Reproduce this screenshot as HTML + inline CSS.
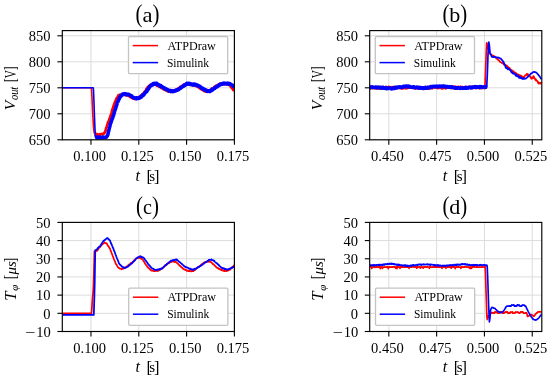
<!DOCTYPE html>
<html><head><meta charset="utf-8"><style>
html,body{margin:0;padding:0;background:#fff;}
body{width:550px;height:382px;overflow:hidden;}
svg{display:block;font-family:"Liberation Serif","DejaVu Serif",serif;fill:#000;}
svg text{fill:#000;}
</style></head><body>
<svg width="550" height="382" viewBox="0 0 550 382">
<defs>
<clipPath id="clipa"><rect x="62.3" y="30.6" width="172.10" height="109.20"/></clipPath>
<clipPath id="clipb"><rect x="369.7" y="30.6" width="172.10" height="109.20"/></clipPath>
<clipPath id="clipc"><rect x="62.3" y="222.4" width="172.10" height="109.10"/></clipPath>
<clipPath id="clipd"><rect x="369.7" y="222.4" width="172.10" height="109.10"/></clipPath>
</defs>
<rect width="550" height="382" fill="#fff"/>
<line x1="90.98" y1="30.6" x2="90.98" y2="139.8" stroke="#dcdcdc" stroke-width="1"/>
<line x1="138.79" y1="30.6" x2="138.79" y2="139.8" stroke="#dcdcdc" stroke-width="1"/>
<line x1="186.59" y1="30.6" x2="186.59" y2="139.8" stroke="#dcdcdc" stroke-width="1"/>
<line x1="234.40" y1="30.6" x2="234.40" y2="139.8" stroke="#dcdcdc" stroke-width="1"/>
<line x1="62.3" y1="139.80" x2="234.4" y2="139.80" stroke="#dcdcdc" stroke-width="1"/>
<line x1="62.3" y1="113.80" x2="234.4" y2="113.80" stroke="#dcdcdc" stroke-width="1"/>
<line x1="62.3" y1="87.80" x2="234.4" y2="87.80" stroke="#dcdcdc" stroke-width="1"/>
<line x1="62.3" y1="61.80" x2="234.4" y2="61.80" stroke="#dcdcdc" stroke-width="1"/>
<line x1="62.3" y1="35.80" x2="234.4" y2="35.80" stroke="#dcdcdc" stroke-width="1"/>
<line x1="388.82" y1="30.6" x2="388.82" y2="139.8" stroke="#dcdcdc" stroke-width="1"/>
<line x1="436.63" y1="30.6" x2="436.63" y2="139.8" stroke="#dcdcdc" stroke-width="1"/>
<line x1="484.43" y1="30.6" x2="484.43" y2="139.8" stroke="#dcdcdc" stroke-width="1"/>
<line x1="532.24" y1="30.6" x2="532.24" y2="139.8" stroke="#dcdcdc" stroke-width="1"/>
<line x1="369.7" y1="139.80" x2="541.8" y2="139.80" stroke="#dcdcdc" stroke-width="1"/>
<line x1="369.7" y1="113.80" x2="541.8" y2="113.80" stroke="#dcdcdc" stroke-width="1"/>
<line x1="369.7" y1="87.80" x2="541.8" y2="87.80" stroke="#dcdcdc" stroke-width="1"/>
<line x1="369.7" y1="61.80" x2="541.8" y2="61.80" stroke="#dcdcdc" stroke-width="1"/>
<line x1="369.7" y1="35.80" x2="541.8" y2="35.80" stroke="#dcdcdc" stroke-width="1"/>
<line x1="90.98" y1="222.4" x2="90.98" y2="331.5" stroke="#dcdcdc" stroke-width="1"/>
<line x1="138.79" y1="222.4" x2="138.79" y2="331.5" stroke="#dcdcdc" stroke-width="1"/>
<line x1="186.59" y1="222.4" x2="186.59" y2="331.5" stroke="#dcdcdc" stroke-width="1"/>
<line x1="234.40" y1="222.4" x2="234.40" y2="331.5" stroke="#dcdcdc" stroke-width="1"/>
<line x1="62.3" y1="331.50" x2="234.4" y2="331.50" stroke="#dcdcdc" stroke-width="1"/>
<line x1="62.3" y1="313.32" x2="234.4" y2="313.32" stroke="#dcdcdc" stroke-width="1"/>
<line x1="62.3" y1="295.13" x2="234.4" y2="295.13" stroke="#dcdcdc" stroke-width="1"/>
<line x1="62.3" y1="276.95" x2="234.4" y2="276.95" stroke="#dcdcdc" stroke-width="1"/>
<line x1="62.3" y1="258.77" x2="234.4" y2="258.77" stroke="#dcdcdc" stroke-width="1"/>
<line x1="62.3" y1="240.58" x2="234.4" y2="240.58" stroke="#dcdcdc" stroke-width="1"/>
<line x1="62.3" y1="222.40" x2="234.4" y2="222.40" stroke="#dcdcdc" stroke-width="1"/>
<line x1="388.82" y1="222.4" x2="388.82" y2="331.5" stroke="#dcdcdc" stroke-width="1"/>
<line x1="436.63" y1="222.4" x2="436.63" y2="331.5" stroke="#dcdcdc" stroke-width="1"/>
<line x1="484.43" y1="222.4" x2="484.43" y2="331.5" stroke="#dcdcdc" stroke-width="1"/>
<line x1="532.24" y1="222.4" x2="532.24" y2="331.5" stroke="#dcdcdc" stroke-width="1"/>
<line x1="369.7" y1="331.50" x2="541.8" y2="331.50" stroke="#dcdcdc" stroke-width="1"/>
<line x1="369.7" y1="313.32" x2="541.8" y2="313.32" stroke="#dcdcdc" stroke-width="1"/>
<line x1="369.7" y1="295.13" x2="541.8" y2="295.13" stroke="#dcdcdc" stroke-width="1"/>
<line x1="369.7" y1="276.95" x2="541.8" y2="276.95" stroke="#dcdcdc" stroke-width="1"/>
<line x1="369.7" y1="258.77" x2="541.8" y2="258.77" stroke="#dcdcdc" stroke-width="1"/>
<line x1="369.7" y1="240.58" x2="541.8" y2="240.58" stroke="#dcdcdc" stroke-width="1"/>
<line x1="369.7" y1="222.40" x2="541.8" y2="222.40" stroke="#dcdcdc" stroke-width="1"/>
<polyline points="62.3,87.8 62.6,87.8 62.9,87.8 63.2,87.8 63.5,87.8 63.8,87.8 64.1,87.8 64.4,87.8 64.7,87.8 65,87.8 65.3,87.8 65.6,87.8 65.9,87.8 66.2,87.8 66.5,87.8 66.8,87.8 67.1,87.8 67.4,87.8 67.7,87.8 68,87.8 68.3,87.8 68.6,87.8 68.9,87.8 69.2,87.8 69.5,87.8 69.8,87.8 70.1,87.8 70.4,87.8 70.7,87.8 71,87.8 71.3,87.8 71.6,87.8 71.9,87.8 72.2,87.8 72.5,87.8 72.8,87.8 73.1,87.8 73.4,87.8 73.7,87.8 74,87.8 74.3,87.8 74.6,87.8 74.9,87.8 75.2,87.8 75.5,87.8 75.8,87.8 76.1,87.8 76.4,87.8 76.7,87.8 77,87.8 77.3,87.8 77.6,87.8 77.9,87.8 78.2,87.8 78.5,87.8 78.8,87.8 79.1,87.8 79.4,87.8 79.7,87.8 80,87.8 80.3,87.8 80.6,87.8 80.9,87.8 81.2,87.8 81.5,87.8 81.8,87.8 82.1,87.8 82.4,87.8 82.7,87.8 83,87.8 83.3,87.8 83.6,87.8 83.9,87.8 84.2,87.8 84.5,87.8 84.8,87.8 85.1,87.8 85.4,87.8 85.7,87.8 86,87.8 86.3,87.8 86.6,87.8 86.9,87.8 87.2,87.8 87.5,87.8 87.8,87.8 88.1,87.8 88.4,87.8 88.7,87.8 89,87.8 89.3,87.8 89.6,87.8 89.9,87.8 90.2,87.8 90.5,87.8 90.8,87.8 91.1,87.8 91.4,88.15 91.7,92.3 92,98 92.3,104.1 92.6,110.92 92.9,116.86 93.2,122.36 93.5,126.89 93.8,129.87 94.1,132.11 94.4,133.29 94.7,133.92" fill="none" stroke="#ff0000" stroke-width="1.6" stroke-linejoin="round" stroke-linecap="butt" clip-path="url(#clipa)"/>
<polyline points="94.7,133.92 95,134.2 95.3,134.63 95.6,134.21 95.9,134.18 96.2,134.18 96.5,134.29 96.8,133.98 97.1,134.35 97.4,134.66 97.7,134.38 98,134.54 98.3,134.72 98.6,134.64 98.9,134.57 99.2,134.64 99.5,134.65 99.8,134.2 100.1,134.39 100.4,134.27 100.7,134.19 101,134.43 101.3,134.2 101.6,134.41 101.9,134.35 102.2,133.93 102.5,134.15 102.8,134.06 103.1,134.25 103.4,133.69 103.7,133.65 104,133.64 104.3,133.14 104.6,132.83 104.9,131.98 105.2,131.26 105.5,131.1 105.8,129.59 106.1,128.45 106.4,127.49 106.7,126.55 107,125.5 107.3,124.78 107.6,124.14 107.9,122.57 108.2,121.93 108.5,121.33 108.8,120.75 109.1,120.12 109.4,118.72 109.7,118.31 110,117.82 110.3,116.34 110.6,115.87 110.9,114.58 111.2,114.05 111.5,113.15 111.8,111.79 112.1,110.34 112.4,109.39 112.7,108.72 113,108.12 113.3,106.69 113.6,106.1 113.9,104.98 114.2,103.98 114.5,103.5 114.8,102.39 115.1,101.71 115.4,101.31 115.7,100.4 116,99.98 116.3,99.14 116.6,98.27 116.9,97.97 117.2,97.84 117.5,97.12 117.8,96.95 118.1,95.7 118.4,95.52 118.7,95.48 119,95.09 119.3,94.77 119.6,94.74 119.9,94.91 120.2,94.81 120.5,94.76 120.8,94.83 121.1,94.93 121.4,94.63 121.7,94.84 122,94.71 122.3,94.74 122.6,94.4 122.9,93.97 123.2,94.33 123.5,94.59 123.8,94.43 124.1,94.47 124.4,94.31 124.7,94.34 125,94.69 125.3,94.25 125.6,94.96 125.9,95.06 126.2,95.22 126.5,94.66 126.8,94.75 127.1,95.47 127.4,95.18 127.7,95.18 128,95.38 128.3,95.73 128.6,95.49 128.9,95.92 129.2,96.24 129.5,96.48 129.8,96.1 130.1,96.94 130.4,96.84 130.7,97.03 131,97.31 131.3,97.25 131.6,97.88 131.9,97.47 132.2,97.85 132.5,97.67 132.8,98.16 133.1,98.51 133.4,98.61 133.7,98.12 134,98.61 134.3,98.92 134.6,98.44 134.9,98.67 135.2,98.95 135.5,98.99 135.8,98.75 136.1,98.86 136.4,98.82 136.7,98.47 137,98.59 137.3,98.38 137.6,98.32 137.9,97.99 138.2,97.67 138.5,97.55 138.8,97.74 139.1,96.95 139.4,96.72 139.7,96.41 140,96.88 140.3,96.76 140.6,95.92 140.9,95.69 141.2,95.36 141.5,95.4 141.8,95.01 142.1,94.97 142.4,94.17 142.7,94.38 143,93.71 143.3,93.65 143.6,93.31 143.9,93.05 144.2,92.37 144.5,92.12 144.8,91.73 145.1,91.06 145.4,90.89 145.7,90.8 146,90.32 146.3,89.14 146.6,89.18 146.9,88.44 147.2,87.82 147.5,87.37 147.8,87.48 148.1,87.22 148.4,86.51 148.7,86.1 149,85.94 149.3,86 149.6,85.76 149.9,85.03 150.2,84.98 150.5,85.34 150.8,84.88 151.1,84.86 151.4,84.82 151.7,84.58 152,84.54 152.3,84.29 152.6,83.95 152.9,83.84 153.2,84.44 153.5,83.62 153.8,84.15 154.1,84.32 154.4,83.85 154.7,83.78 155,84.16 155.3,84.22 155.6,84.46 155.9,84.58 156.2,85.14 156.5,84.64 156.8,85.46 157.1,84.89 157.4,85.75 157.7,85.41 158,85.88 158.3,85.47 158.6,85.99 158.9,86.35 159.2,86.5 159.5,86.83 159.8,86.49 160.1,86.88 160.4,87.24 160.7,86.97 161,87.8 161.3,87.65 161.6,87.7 161.9,87.85 162.2,88.37 162.5,88.05 162.8,88.37 163.1,88.59 163.4,88.73 163.7,89.28 164,89.35 164.3,89.77 164.6,89.78 164.9,89.62 165.2,89.8 165.5,89.8 165.8,90.04 166.1,90.46 166.4,90.69 166.7,90.45 167,90.59 167.3,91.04 167.6,91.24 167.9,90.62 168.2,90.69 168.5,91.31 168.8,91.17 169.1,91.18 169.4,91.41 169.7,91.58 170,91.08 170.3,91.84 170.6,91.88 170.9,91.48 171.2,91.55 171.5,91.41 171.8,91.67 172.1,91.36 172.4,91.59 172.7,91.83 173,91.43 173.3,91.58 173.6,90.95 173.9,91.38 174.2,90.63 174.5,90.55 174.8,90.79 175.1,90.29 175.4,89.98 175.7,89.79 176,90.19 176.3,89.42 176.6,89.29 176.9,89.82 177.2,89.5 177.5,88.98 177.8,88.63 178.1,88.96 178.4,88.68 178.7,88.36 179,88.03 179.3,87.81 179.6,87.96 179.9,87.39 180.2,86.84 180.5,86.64 180.8,86.88 181.1,86.81 181.4,86.54 181.7,86.44 182,85.88 182.3,85.74 182.6,85.46 182.9,85.34 183.2,85.06 183.5,85.32 183.8,84.59 184.1,84.47 184.4,84.71 184.7,84.31 185,84.13 185.3,84.52 185.6,84.36 185.9,83.75 186.2,83.65 186.5,83.9 186.8,83.96 187.1,83.8 187.4,84.03 187.7,84.15 188,84.32 188.3,83.93 188.6,84.33 188.9,83.94 189.2,84.03 189.5,84.1 189.8,84.23 190.1,84.83 190.4,84.57 190.7,84.72 191,84.73 191.3,84.57 191.6,84.46 191.9,84.58 192.2,85.13 192.5,84.73 192.8,84.8 193.1,84.7 193.4,85.1 193.7,85.11 194,84.92 194.3,85.09 194.6,85.1 194.9,85.35 195.2,85.48 195.5,85.6 195.8,86 196.1,86.18 196.4,85.62 196.7,86.03 197,85.92 197.3,86.34 197.6,86.84 197.9,86.9 198.2,86.97 198.5,86.78 198.8,87.56 199.1,87.62 199.4,87.6 199.7,88.21 200,87.85 200.3,88.2 200.6,88.91 200.9,88.54 201.2,88.82 201.5,89.31 201.8,89.66 202.1,89.72 202.4,89.43 202.7,89.76 203,90.26 203.3,90.12 203.6,90.14 203.9,90.13 204.2,90.49 204.5,91.16 204.8,90.58 205.1,91.11 205.4,91.51 205.7,91.44 206,91.2 206.3,91.57 206.6,91.21 206.9,91.56 207.2,91.4 207.5,91.9 207.8,91.87 208.1,91.72 208.4,91.31 208.7,91.51 209,91.49 209.3,90.82 209.6,90.74 209.9,90.23 210.2,89.95 210.5,90.21 210.8,89.44 211.1,89.64 211.4,89.03 211.7,89.26 212,89.14 212.3,89.09 212.6,88.45 212.9,88.24 213.2,88.04 213.5,88.07 213.8,87.92 214.1,87.17 214.4,87.12 214.7,86.7 215,86.64 215.3,86.84 215.6,86.81 215.9,86.66 216.2,85.76 216.5,85.87 216.8,86.08 217.1,85.62 217.4,85.33 217.7,85.5 218,85.4 218.3,84.65 218.6,84.78 218.9,84.33 219.2,84.21 219.5,84.35 219.8,84 220.1,84.33 220.4,83.88 220.7,83.65 221,83.95 221.3,83.62 221.6,83.45 221.9,84.2 222.2,83.55 222.5,83.51 222.8,83.78 223.1,83.4 223.4,84.03 223.7,83.46 224,83.43 224.3,84.17 224.6,83.81 224.9,84.14 225.2,84.12 225.5,83.99 225.8,83.43 226.1,83.94 226.4,83.51 226.7,83.5 227,84.22 227.3,83.85 227.6,84.26 227.9,84.16 228.2,84.45 228.5,84.42 228.8,84.78 229.1,84.48 229.4,84.95 229.7,85.21 230,85.39 230.3,85.76 230.6,86.18 230.9,86.84 231.2,86.96 231.5,87.59 231.8,88.14 232.1,88.23 232.4,88.5 232.7,88.76 233,89.66 233.3,90.05 233.6,90.34 233.9,90.57 234.2,90.82" fill="none" stroke="#ff0000" stroke-width="2.7" stroke-linejoin="round" stroke-linecap="butt" clip-path="url(#clipa)"/>
<polyline points="62.3,87.8 62.6,87.8 62.9,87.8 63.2,87.8 63.5,87.8 63.8,87.8 64.1,87.8 64.4,87.8 64.7,87.8 65,87.8 65.3,87.8 65.6,87.8 65.9,87.8 66.2,87.8 66.5,87.8 66.8,87.8 67.1,87.8 67.4,87.8 67.7,87.8 68,87.8 68.3,87.8 68.6,87.8 68.9,87.8 69.2,87.8 69.5,87.8 69.8,87.8 70.1,87.8 70.4,87.8 70.7,87.8 71,87.8 71.3,87.8 71.6,87.8 71.9,87.8 72.2,87.8 72.5,87.8 72.8,87.8 73.1,87.8 73.4,87.8 73.7,87.8 74,87.8 74.3,87.8 74.6,87.8 74.9,87.8 75.2,87.8 75.5,87.8 75.8,87.8 76.1,87.8 76.4,87.8 76.7,87.8 77,87.8 77.3,87.8 77.6,87.8 77.9,87.8 78.2,87.8 78.5,87.8 78.8,87.8 79.1,87.8 79.4,87.8 79.7,87.8 80,87.8 80.3,87.8 80.6,87.8 80.9,87.8 81.2,87.8 81.5,87.8 81.8,87.8 82.1,87.8 82.4,87.8 82.7,87.8 83,87.8 83.3,87.8 83.6,87.8 83.9,87.8 84.2,87.8 84.5,87.8 84.8,87.8 85.1,87.8 85.4,87.8 85.7,87.8 86,87.8 86.3,87.8 86.6,87.8 86.9,87.8 87.2,87.8 87.5,87.8 87.8,87.8 88.1,87.8 88.4,87.8 88.7,87.8 89,87.8 89.3,87.8 89.6,87.8 89.9,87.8 90.2,87.8 90.5,87.8 90.8,87.8 91.1,87.8 91.4,87.8 91.7,87.8 92,87.8 92.3,87.8 92.6,87.8 92.9,87.8 93.2,87.8 93.5,89.91 93.8,97.45 94.1,105.42 94.4,114.6 94.7,122.38 95,129.25 95.3,134 95.6,136.66 95.9,137.88" fill="none" stroke="#0000ff" stroke-width="1.6" stroke-linejoin="round" stroke-linecap="butt" clip-path="url(#clipa)"/>
<polyline points="95.9,137.88 96.2,137.28 96.5,137.1 96.8,137.83 97.1,137.94 97.4,137.66 97.7,137.99 98,137.51 98.3,137.57 98.6,137.13 98.9,137.43 99.2,137.99 99.5,137.18 99.8,137.22 100.1,137.12 100.4,137.58 100.7,137.7 101,137.63 101.3,137.98 101.6,137.78 101.9,137.74 102.2,137.7 102.5,137.6 102.8,137.17 103.1,137.18 103.4,137.72 103.7,137.27 104,137.46 104.3,137.67 104.6,137.6 104.9,137.22 105.2,137.21 105.5,137.05 105.8,137.54 106.1,137.55 106.4,136.9 106.7,136.77 107,136.17 107.3,136.04 107.6,135.06 107.9,134.66 108.2,132.8 108.5,131.76 108.8,130.3 109.1,129.24 109.4,127.85 109.7,126.99 110,125.6 110.3,124.02 110.6,123.38 110.9,122.85 111.2,121.54 111.5,120.99 111.8,119.63 112.1,119.36 112.4,118.3 112.7,118.05 113,116.35 113.3,115.76 113.6,115.24 113.9,113.88 114.2,112.95 114.5,111.79 114.8,110.53 115.1,109.74 115.4,109.31 115.7,108.25 116,106.85 116.3,106.25 116.6,105.43 116.9,104.52 117.2,102.89 117.5,102.17 117.8,102.19 118.1,100.81 118.4,100.62 118.7,99.81 119,99.41 119.3,98.01 119.6,98.3 119.9,97.72 120.2,96.63 120.5,96.71 120.8,95.66 121.1,96.18 121.4,95.42 121.7,95.46 122,95.26 122.3,94.28 122.6,94.97 122.9,94.07 123.2,94.02 123.5,94.22 123.8,93.93 124.1,94.25 124.4,93.74 124.7,94.14 125,94.26 125.3,94.47 125.6,93.93 125.9,93.85 126.2,94.19 126.5,94.32 126.8,94.66 127.1,94.4 127.4,94.34 127.7,94.29 128,94.81 128.3,94.82 128.6,94.36 128.9,94.69 129.2,94.66 129.5,95.1 129.8,95.1 130.1,95.01 130.4,95.54 130.7,95.84 131,95.71 131.3,96.4 131.6,95.86 131.9,96.02 132.2,96.86 132.5,96.9 132.8,97.27 133.1,97.61 133.4,97.33 133.7,97.76 134,97.71 134.3,97.7 134.6,97.81 134.9,98.42 135.2,97.88 135.5,98.07 135.8,98.22 136.1,98.47 136.4,97.96 136.7,98.61 137,98.03 137.3,98.38 137.6,98.42 137.9,98.5 138.2,98.42 138.5,98.35 138.8,97.64 139.1,97.8 139.4,98.04 139.7,97.54 140,97.76 140.3,97.28 140.6,97.1 140.9,97.01 141.2,97.11 141.5,95.94 141.8,95.84 142.1,95.58 142.4,95.45 142.7,95.01 143,95.7 143.3,94.57 143.6,94.6 143.9,94.69 144.2,93.97 144.5,93.41 144.8,93.12 145.1,92.91 145.4,92.46 145.7,92.28 146,91.87 146.3,91.2 146.6,91.64 146.9,91.34 147.2,90.51 147.5,89.6 147.8,89.95 148.1,88.93 148.4,88.47 148.7,87.87 149,88.09 149.3,87.41 149.6,86.61 149.9,86.3 150.2,86.01 150.5,85.68 150.8,85.74 151.1,85.83 151.4,84.74 151.7,85.37 152,85.2 152.3,84.41 152.6,85.01 152.9,84.76 153.2,84.47 153.5,83.73 153.8,83.96 154.1,84.18 154.4,83.89 154.7,83.33 155,83.99 155.3,83.62 155.6,83.42 155.9,83.58 156.2,83.39 156.5,83.73 156.8,83.49 157.1,84.6 157.4,83.88 157.7,84.23 158,84.34 158.3,84.66 158.6,84.69 158.9,85.39 159.2,84.83 159.5,85.79 159.8,85.35 160.1,86.1 160.4,85.63 160.7,85.55 161,86.49 161.3,86 161.6,86.78 161.9,87.11 162.2,86.63 162.5,86.92 162.8,87.36 163.1,87.85 163.4,88.01 163.7,87.82 164,88.07 164.3,88.47 164.6,87.99 164.9,88.94 165.2,89.05 165.5,88.59 165.8,89.16 166.1,89.44 166.4,89.52 166.7,89.11 167,89.26 167.3,89.57 167.6,89.59 167.9,90.11 168.2,90.48 168.5,90.43 168.8,90.85 169.1,90.52 169.4,90.55 169.7,90.31 170,91.21 170.3,91 170.6,91.38 170.9,91.4 171.2,90.61 171.5,91.19 171.8,91.13 172.1,91.44 172.4,90.77 172.7,91.42 173,91.39 173.3,91.17 173.6,90.93 173.9,91.47 174.2,90.79 174.5,91.02 174.8,90.62 175.1,90.79 175.4,90.61 175.7,90.85 176,90.76 176.3,90.63 176.6,90.17 176.9,90.35 177.2,90.09 177.5,89.8 177.8,89.88 178.1,89.92 178.4,89.26 178.7,89.57 179,89.04 179.3,88.6 179.6,88.48 179.9,88.45 180.2,87.89 180.5,88.28 180.8,87.52 181.1,87.55 181.4,87.57 181.7,87.33 182,86.98 182.3,86.83 182.6,86.7 182.9,86.35 183.2,86 183.5,86.28 183.8,85.34 184.1,85.11 184.4,85.09 184.7,84.81 185,85.36 185.3,84.72 185.6,84.9 185.9,84.4 186.2,83.9 186.5,84.42 186.8,84.3 187.1,83.43 187.4,83.99 187.7,83.72 188,83.29 188.3,83.44 188.6,83.84 188.9,83.32 189.2,83.78 189.5,83.76 189.8,83.82 190.1,83.55 190.4,84.27 190.7,84.06 191,84.29 191.3,84.31 191.6,84.08 191.9,84.56 192.2,84.29 192.5,84.86 192.8,84.44 193.1,84.2 193.4,84.49 193.7,84.43 194,85 194.3,84.37 194.6,84.96 194.9,84.12 195.2,84.26 195.5,84.46 195.8,84.98 196.1,84.92 196.4,84.83 196.7,84.94 197,85.49 197.3,85 197.6,85.71 197.9,85.45 198.2,85.92 198.5,86.2 198.8,85.97 199.1,85.89 199.4,86.09 199.7,86.25 200,86.28 200.3,86.8 200.6,87.23 200.9,87.19 201.2,87.99 201.5,88.2 201.8,88.27 202.1,88.52 202.4,88.27 202.7,88.93 203,88.43 203.3,88.59 203.6,88.81 203.9,89.22 204.2,89.77 204.5,89.22 204.8,89.72 205.1,90.08 205.4,90.48 205.7,90.34 206,90.17 206.3,90.14 206.6,90.69 206.9,91.11 207.2,91.25 207.5,91.13 207.8,90.78 208.1,90.75 208.4,90.78 208.7,91.04 209,91.33 209.3,90.95 209.6,91.38 209.9,91 210.2,91.36 210.5,90.95 210.8,91.02 211.1,90.31 211.4,90.41 211.7,90.51 212,89.4 212.3,90.08 212.6,89.51 212.9,89.68 213.2,88.75 213.5,88.75 213.8,88.76 214.1,88.47 214.4,88.29 214.7,88.33 215,87.41 215.3,87.75 215.6,87.26 215.9,87.52 216.2,87.34 216.5,86.63 216.8,86.34 217.1,86.69 217.4,86.54 217.7,86.19 218,86.16 218.3,86.04 218.6,85.42 218.9,85.12 219.2,84.65 219.5,84.86 219.8,84.46 220.1,84.81 220.4,84.53 220.7,84.7 221,84.3 221.3,83.73 221.6,83.73 221.9,83.75 222.2,83.69 222.5,84.03 222.8,83.67 223.1,83.33 223.4,83.28 223.7,83.58 224,83.09 224.3,83.46 224.6,83.9 224.9,83.92 225.2,83.56 225.5,83.54 225.8,83.33 226.1,83.59 226.4,83.46 226.7,83.65 227,83.95 227.3,83.76 227.6,83.15 227.9,83.21 228.2,83.77 228.5,84.1 228.8,83.77 229.1,84.08 229.4,83.59 229.7,83.63 230,84.45 230.3,84.43 230.6,84.09 230.9,84.55 231.2,84.5 231.5,84.81 231.8,84.81 232.1,85.13 232.4,85.64 232.7,85.39 233,85.97 233.3,86.47 233.6,85.84 233.9,86.38 234.2,86.85" fill="none" stroke="#0000ff" stroke-width="3.6" stroke-linejoin="round" stroke-linecap="butt" clip-path="url(#clipa)"/>
<polyline points="369.7,87.91 370,87.57 370.3,88.94 370.6,86.83 370.9,87.15 371.2,86.51 371.5,86.79 371.8,87.96 372.1,86.44 372.4,88.93 372.7,88.42 373,86.53 373.3,88.5 373.6,86.64 373.9,87.74 374.2,86.89 374.5,86.77 374.8,87.78 375.1,88.77 375.4,86.53 375.7,86.87 376,87.65 376.3,88.96 376.6,87.3 376.9,88.72 377.2,87.8 377.5,87.55 377.8,88.42 378.1,86.83 378.4,87.76 378.7,86.38 379,87.75 379.3,89.07 379.6,86.48 379.9,86.56 380.2,87.89 380.5,88.89 380.8,87.84 381.1,88.97 381.4,87.17 381.7,89.06 382,86.87 382.3,88.44 382.6,87.22 382.9,88.62 383.2,86.38 383.5,87.15 383.8,88.86 384.1,88.44 384.4,87.63 384.7,87.33 385,88.92 385.3,86.82 385.6,86.81 385.9,86.44 386.2,88.15 386.5,88.83 386.8,86.63 387.1,88.41 387.4,88.42 387.7,86.84 388,87.73 388.3,87.87 388.6,86.42 388.9,88.91 389.2,86.64 389.5,86.68 389.8,88.23 390.1,87.67 390.4,88.46 390.7,88.07 391,86.53 391.3,87.53 391.6,89 391.9,87.12 392.2,86.77 392.5,88.74 392.8,86.5 393.1,87.4 393.4,89.05 393.7,88.67 394,86.63 394.3,86.5 394.6,87.61 394.9,88.17 395.2,88.53 395.5,86.81 395.8,87.45 396.1,87.52 396.4,87.11 396.7,88.16 397,87.76 397.3,87.42 397.6,88.41 397.9,87.09 398.2,87.94 398.5,88.44 398.8,87.2 399.1,86.34 399.4,86.25 399.7,88.46 400,88.53 400.3,88.24 400.6,86.31 400.9,86.96 401.2,88.9 401.5,87.81 401.8,87.45 402.1,88.96 402.4,88.96 402.7,86.94 403,88.26 403.3,88.53 403.6,88.63 403.9,88.8 404.2,88.35 404.5,86.43 404.8,87.1 405.1,86.8 405.4,88.02 405.7,87.77 406,88.96 406.3,86.9 406.6,86.59 406.9,86.32 407.2,86.79 407.5,88.74 407.8,87.96 408.1,86.93 408.4,87.85 408.7,88.05 409,87.16 409.3,86.28 409.6,88.2 409.9,87.86 410.2,86.46 410.5,87.63 410.8,86.63 411.1,87.39 411.4,88.28 411.7,87.92 412,87.15 412.3,88.37 412.6,86.93 412.9,88.05 413.2,87.04 413.5,87.99 413.8,87.83 414.1,87.91 414.4,88.59 414.7,88.5 415,88.97 415.3,86.85 415.6,88.98 415.9,88.09 416.2,86.64 416.5,86.23 416.8,86.89 417.1,87.49 417.4,88 417.7,88.7 418,88.56 418.3,88.79 418.6,88.66 418.9,88.65 419.2,88.97 419.5,88.31 419.8,86.64 420.1,87.82 420.4,87.47 420.7,88.12 421,87.02 421.3,88.8 421.6,87 421.9,87.49 422.2,86.69 422.5,88.78 422.8,88.72 423.1,88.87 423.4,86.82 423.7,87.14 424,88.76 424.3,88.67 424.6,86.52 424.9,87.51 425.2,86.36 425.5,88.52 425.8,88.56 426.1,88.83 426.4,88.48 426.7,87.38 427,87.26 427.3,88.04 427.6,87.39 427.9,88.89 428.2,87.5 428.5,87.48 428.8,88.93 429.1,86.93 429.4,87.11 429.7,86.41 430,88.79 430.3,87.66 430.6,87.44 430.9,88.69 431.2,88.75 431.5,86.78 431.8,86.54 432.1,88.66 432.4,88.87 432.7,87.71 433,88.23 433.3,86.24 433.6,87.56 433.9,86.41 434.2,86.56 434.5,86.34 434.8,87.69 435.1,87.8 435.4,87.39 435.7,88.19 436,86.42 436.3,86.84 436.6,86.68 436.9,87.6 437.2,88.4 437.5,86.68 437.8,88.7 438.1,87.16 438.4,86.74 438.7,86.89 439,88.33 439.3,86.2 439.6,87.38 439.9,86.99 440.2,87.67 440.5,87.28 440.8,86.44 441.1,86.6 441.4,88.87 441.7,87.75 442,88.75 442.3,88.85 442.6,87.86 442.9,88.73 443.2,87.35 443.5,87 443.8,88.44 444.1,87.09 444.4,86.91 444.7,87.51 445,87.3 445.3,88.85 445.6,88.69 445.9,88.19 446.2,88.67 446.5,86.87 446.8,86.9 447.1,87.13 447.4,87.83 447.7,86.23 448,86.44 448.3,86.87 448.6,86.43 448.9,86.87 449.2,86.45 449.5,86.99 449.8,87.38 450.1,87.69 450.4,88.41 450.7,86.97 451,87.24 451.3,88.59 451.6,86.21 451.9,87.6 452.2,86.49 452.5,86.19 452.8,88.64 453.1,88.02 453.4,87.46 453.7,88.42 454,88.83 454.3,87.78 454.6,87.43 454.9,86.15 455.2,88.81 455.5,88.33 455.8,86.45 456.1,87.4 456.4,86.84 456.7,88.8 457,87 457.3,86.55 457.6,88.66 457.9,87 458.2,86.51 458.5,86.32 458.8,86.6 459.1,87.36 459.4,86.85 459.7,88.04 460,88.63 460.3,86.55 460.6,86.25 460.9,88.27 461.2,88 461.5,88.57 461.8,86.47 462.1,88.1 462.4,86.93 462.7,86.66 463,87.2 463.3,88.52 463.6,88.43 463.9,88.49 464.2,86.82 464.5,87.4 464.8,86.63 465.1,86.76 465.4,88.49 465.7,86.43 466,88.7 466.3,88.83 466.6,87.36 466.9,87.8 467.2,88.83 467.5,88.15 467.8,88.34 468.1,88.21 468.4,86.28 468.7,88.32 469,88.08 469.3,87.08 469.6,86.25 469.9,87.12 470.2,87.67 470.5,87.14 470.8,87.75 471.1,87.24 471.4,88.07 471.7,88.74 472,86.16 472.3,87.85 472.6,88.39 472.9,86.19 473.2,87.4 473.5,88.38 473.8,88.03 474.1,87.19 474.4,87.07 474.7,86.21 475,87.52 475.3,88.41 475.6,88.43 475.9,88.11 476.2,87.5 476.5,86.8 476.8,86.9 477.1,86.6 477.4,87.04 477.7,86.13 478,87.38 478.3,88.3 478.6,87.04 478.9,88.5 479.2,87.67 479.5,88.31 479.8,88.9 480.1,86.4 480.4,87.24 480.7,86.57 481,86.48 481.3,88.11 481.6,86.12 481.9,87.77 482.2,88.67 482.5,87.28 482.8,88.03 483.1,86.47 483.4,88.21 483.7,88.27 484,87.74 484.3,88.67 484.6,87.64 484.9,87.77 485.2,79.71 485.5,72.69 485.8,64.19 486.1,55.83 486.4,48.25 486.7,42.79 487,43.89 487.3,45.2 487.6,46.34 487.9,47.33 488.2,48.65 488.5,49.8 488.8,50.22 489.1,51.1 489.4,52.49 489.7,53.26 490,54.04 490.3,54.05 490.6,54.46 490.9,54.48 491.2,54.73 491.5,55.26 491.8,55.71 492.1,55.61 492.4,55.38 492.7,55.45 493,55.99 493.3,55.84 493.6,55.82 493.9,55.94 494.2,56.43 494.5,56.38 494.8,56.46 495.1,56.77 495.4,56.98 495.7,57.79 496,57.78 496.3,58.06 496.6,58.09 496.9,58.49 497.2,59.08 497.5,59.36 497.8,59.39 498.1,59.57 498.4,60.27 498.7,60.19 499,60.46 499.3,60.69 499.6,61.19 499.9,61.7 500.2,61.76 500.5,62.2 500.8,62.15 501.1,62.62 501.4,62.57 501.7,62.99 502,63.03 502.3,63.1 502.6,63.44 502.9,63.18 503.2,63.49 503.5,63.55 503.8,64.53 504.1,63.86 504.4,64.28 504.7,65.04 505,64.71 505.3,65.53 505.6,66.07 505.9,65.41 506.2,65.85 506.5,65.33 506.8,66.62 507.1,66.23 507.4,66.76 507.7,66.4 508,67.26 508.3,67.22 508.6,68.12 508.9,68.32 509.2,68.08 509.5,67.81 509.8,68.26 510.1,68.9 510.4,69.55 510.7,69.97 511,70.24 511.3,70.37 511.6,70.18 511.9,70.59 512.2,70.4 512.5,71.08 512.8,71.07 513.1,71.58 513.4,71.11 513.7,71.44 514,72.48 514.3,72.42 514.6,72.36 514.9,73.61 515.2,72.5 515.5,74 515.8,74.09 516.1,73.12 516.4,74.56 516.7,74.56 517,74.08 517.3,74.94 517.6,75.51 517.9,74.41 518.2,74.85 518.5,74.73 518.8,75.88 519.1,74.96 519.4,75.04 519.7,75.14 520,76.3 520.3,75.52 520.6,76.72 520.9,75.55 521.2,76.3 521.5,76 521.8,76.22 522.1,76.38 522.4,77.06 522.7,76.74 523,77.06 523.3,77.95 523.6,77.74 523.9,76.88 524.2,76.87 524.5,76.98 524.8,76.19 525.1,75.5 525.4,75.14 525.7,75.2 526,75.27 526.3,74.76 526.6,74.13 526.9,73.71 527.2,73.98 527.5,75.03 527.8,74.15 528.1,74.38 528.4,74.64 528.7,75.53 529,75.01 529.3,75.63 529.6,75.85 529.9,76.24 530.2,76.55 530.5,77.55 530.8,77.23 531.1,77.46 531.4,78.77 531.7,78.41 532,77.93 532.3,77.4 532.6,78.35 532.9,77.58 533.2,77.16 533.5,76.05 533.8,77.31 534.1,76.73 534.4,78.12 534.7,78.82 535,78.81 535.3,78.86 535.6,80.27 535.9,79.26 536.2,79.88 536.5,80.66 536.8,80.99 537.1,80.67 537.4,81.13 537.7,81.69 538,82.87 538.3,83.26 538.6,82.39 538.9,83.71 539.2,83.1 539.5,82.92 539.8,83.21 540.1,82.71 540.4,83.68 540.7,83.67 541,83.07 541.3,82.79 541.6,83.82" fill="none" stroke="#ff0000" stroke-width="1.7" stroke-linejoin="round" stroke-linecap="butt" clip-path="url(#clipb)"/>
<polyline points="369.7,87.58 370,86.74 370.3,87.61 370.6,87.19 370.9,86.88 371.2,87.42 371.5,87.44 371.8,87.04 372.1,87.27 372.4,86.93 372.7,87.31 373,86.93 373.3,87.11 373.6,87.55 373.9,87.57 374.2,87.45 374.5,87.71 374.8,87.6 375.1,87.43 375.4,87.52 375.7,87 376,86.92 376.3,87.14 376.6,87.67 376.9,87.91 377.2,87.16 377.5,87.94 377.8,87.8 378.1,87.16 378.4,87.55 378.7,87.29 379,87.79 379.3,87.41 379.6,87.47 379.9,87.66 380.2,87.41 380.5,87.92 380.8,87.76 381.1,87.23 381.4,87.77 381.7,87.66 382,88.18 382.3,88.23 382.6,87.36 382.9,88.1 383.2,87.98 383.5,87.89 383.8,87.53 384.1,88.35 384.4,88.12 384.7,88.14 385,88.5 385.3,87.69 385.6,87.98 385.9,87.66 386.2,87.94 386.5,88.68 386.8,88.09 387.1,88.56 387.4,88.62 387.7,88.32 388,88.63 388.3,88.03 388.6,87.91 388.9,88.06 389.2,87.96 389.5,87.97 389.8,87.93 390.1,87.96 390.4,88.01 390.7,88.45 391,88.2 391.3,88.88 391.6,88.5 391.9,88.79 392.2,88.56 392.5,88.69 392.8,88.7 393.1,88.11 393.4,87.91 393.7,87.71 394,88.54 394.3,87.76 394.6,88.45 394.9,88.14 395.2,88.18 395.5,87.34 395.8,88.16 396.1,87.28 396.4,87.95 396.7,87.13 397,87.99 397.3,87.05 397.6,87.11 397.9,87.36 398.2,87.05 398.5,86.95 398.8,87.17 399.1,86.84 399.4,87.33 399.7,87.45 400,87.18 400.3,87.22 400.6,86.87 400.9,87.06 401.2,87.18 401.5,87.46 401.8,87.01 402.1,87.43 402.4,86.8 402.7,86.95 403,87.02 403.3,86.34 403.6,87.01 403.9,86.96 404.2,86.19 404.5,86.68 404.8,86.4 405.1,86.13 405.4,86.14 405.7,86.04 406,86.83 406.3,86.73 406.6,86.65 406.9,86.1 407.2,86.67 407.5,86.22 407.8,86.48 408.1,86.02 408.4,86.94 408.7,86.4 409,86.78 409.3,86.24 409.6,86.35 409.9,86.95 410.2,86.93 410.5,86.87 410.8,86.7 411.1,86.98 411.4,87.29 411.7,87.25 412,87.26 412.3,86.95 412.6,86.99 412.9,87.48 413.2,86.89 413.5,87.18 413.8,86.9 414.1,87.16 414.4,86.98 414.7,87.65 415,87.71 415.3,87.2 415.6,87.67 415.9,87.71 416.2,87.83 416.5,87.72 416.8,87.25 417.1,87.7 417.4,87.37 417.7,87.61 418,87.23 418.3,87.23 418.6,88.16 418.9,87.74 419.2,87.81 419.5,87.98 419.8,87.41 420.1,88.06 420.4,88.16 420.7,87.53 421,88.31 421.3,88.02 421.6,88.05 421.9,87.87 422.2,87.63 422.5,87.79 422.8,87.79 423.1,88.39 423.4,88.22 423.7,88.54 424,87.78 424.3,88.36 424.6,88.23 424.9,87.99 425.2,88.21 425.5,87.63 425.8,88.16 426.1,87.64 426.4,87.86 426.7,87.94 427,87.45 427.3,88.14 427.6,87.23 427.9,87.95 428.2,87.97 428.5,87.75 428.8,87.33 429.1,87.61 429.4,87.4 429.7,87.7 430,87.36 430.3,86.74 430.6,87.11 430.9,86.6 431.2,87.01 431.5,86.56 431.8,86.9 432.1,87.19 432.4,86.4 432.7,86.69 433,86.38 433.3,86.61 433.6,86.65 433.9,86.26 434.2,86.54 434.5,86.88 434.8,86.64 435.1,86.28 435.4,86.54 435.7,86.13 436,86.24 436.3,86.5 436.6,86.21 436.9,86.58 437.2,86.14 437.5,86.77 437.8,86.82 438.1,86.8 438.4,86.72 438.7,86.55 439,86.8 439.3,86.04 439.6,85.96 439.9,86.25 440.2,86.88 440.5,86.37 440.8,86.46 441.1,86.16 441.4,86.46 441.7,86.67 442,86.48 442.3,85.97 442.6,86.3 442.9,86.35 443.2,86.09 443.5,86.03 443.8,86.71 444.1,86.05 444.4,86.34 444.7,86.69 445,86.9 445.3,86.4 445.6,86.24 445.9,87.11 446.2,86.89 446.5,87.02 446.8,86.96 447.1,87.02 447.4,86.42 447.7,86.51 448,87.3 448.3,86.74 448.6,87.08 448.9,87.21 449.2,87.05 449.5,86.62 449.8,87.16 450.1,87.08 450.4,86.93 450.7,87.11 451,87.27 451.3,86.76 451.6,87.14 451.9,87 452.2,87.33 452.5,87.04 452.8,87.33 453.1,87.4 453.4,87.14 453.7,87.26 454,87.62 454.3,87.71 454.6,88.05 454.9,87.79 455.2,87.76 455.5,88.22 455.8,88.25 456.1,87.83 456.4,87.82 456.7,88.31 457,87.76 457.3,88.25 457.6,87.64 457.9,87.66 458.2,87.8 458.5,88.03 458.8,87.92 459.1,87.77 459.4,87.67 459.7,87.66 460,88.5 460.3,88.39 460.6,88.39 460.9,88.23 461.2,88.16 461.5,88.05 461.8,88.28 462.1,88.01 462.4,88.44 462.7,87.8 463,88.01 463.3,88.31 463.6,88.09 463.9,88.26 464.2,88.23 464.5,87.85 464.8,87.88 465.1,87.49 465.4,87.8 465.7,88.34 466,87.45 466.3,88.28 466.6,88.2 466.9,88.09 467.2,87.46 467.5,88.12 467.8,88.23 468.1,87.55 468.4,87.35 468.7,87.35 469,87.43 469.3,87.4 469.6,87.2 469.9,87.32 470.2,87.45 470.5,87.82 470.8,88.04 471.1,87.03 471.4,87.9 471.7,87.86 472,87.91 472.3,87.41 472.6,87.26 472.9,87.07 473.2,87.11 473.5,87.04 473.8,87.02 474.1,87.15 474.4,86.77 474.7,86.8 475,87.08 475.3,86.65 475.6,87.44 475.9,87.29 476.2,86.81 476.5,87.31 476.8,87.5 477.1,87.3 477.4,86.8 477.7,87.11 478,87.22 478.3,87.34 478.6,86.9 478.9,86.76 479.2,86.9 479.5,86.54 479.8,87.36 480.1,87.17 480.4,87.04 480.7,87.06 481,87.47 481.3,86.55 481.6,87.42 481.9,86.82 482.2,87.02 482.5,86.97 482.8,86.85 483.1,86.92 483.4,87.12 483.7,86.87 484,86.79 484.3,86.58 484.6,86.92 484.9,87.12 485.2,86.66 485.5,86.68 485.8,87.52 486.1,86.67 486.4,86.77 486.7,87.05" fill="none" stroke="#0000ff" stroke-width="3.4" stroke-linejoin="round" stroke-linecap="butt" clip-path="url(#clipb)"/>
<polyline points="486.7,87.05 486.7,86.67 487,80.87 487.3,75.02 487.6,66.4 487.9,57.81 488.2,50.42 488.5,44.09 488.8,42.04 489.1,43.32 489.4,45.91 489.7,49.23 490,52.4 490.3,53.3 490.6,54.02 490.9,54.52 491.2,55.25 491.5,56.25 491.8,56.84 492.1,56.71 492.4,56.82 492.7,56.88 493,57.03 493.3,57.11 493.6,57.14 493.9,56.9 494.2,56.92 494.5,57.18 494.8,57.24 495.1,57.03 495.4,57.24 495.7,57.39 496,57.41 496.3,57.48 496.6,57.39 496.9,57.39 497.2,57.5 497.5,57.57 497.8,57.42 498.1,57.65 498.4,57.54 498.7,57.83 499,57.57 499.3,57.81 499.6,58.05 499.9,58.22 500.2,58.38 500.5,58.67 500.8,58.55 501.1,58.88 501.4,59.45 501.7,59.67 502,59.99 502.3,60.35 502.6,60.76 502.9,61.04 503.2,62.1 503.5,61.58 503.8,63.58 504.1,63 504.4,63.86 504.7,64.96 505,64.89 505.3,65.41 505.6,67.65 505.9,67.97 506.2,67.83 506.5,68.31 506.8,67.66 507.1,67.65 507.4,68.2 507.7,68.81 508,69.47 508.3,69.09 508.6,69.1 508.9,68.76 509.2,69.12 509.5,69.76 509.8,69.68 510.1,70.14 510.4,70.69 510.7,70.28 511,71.82 511.3,71.38 511.6,72.44 511.9,71.85 512.2,72.34 512.5,73.37 512.8,72.52 513.1,73.39 513.4,73.76 513.7,73.03 514,73.53 514.3,73.78 514.6,73.55 514.9,74.05 515.2,74.22 515.5,75.32 515.8,75.83 516.1,74.28 516.4,75.61 516.7,75.82 517,75.32 517.3,76.49 517.6,75.92 517.9,75.49 518.2,75.61 518.5,76.89 518.8,77.56 519.1,76.98 519.4,77.86 519.7,76.68 520,76.82 520.3,78.13 520.6,77.35 520.9,78.08 521.2,78 521.5,77.76 521.8,78.39 522.1,78.41 522.4,79.05 522.7,78.96 523,78.73 523.3,78.16 523.6,78.74 523.9,78.17 524.2,78.86 524.5,78.83 524.8,78.61 525.1,78.77 525.4,78.65 525.7,78.64 526,78.55 526.3,78.26 526.6,77.96 526.9,77.66 527.2,77.31 527.5,77.06 527.8,77 528.1,76.39 528.4,76.26 528.7,76.04 529,75.54 529.3,75.4 529.6,75.11 529.9,74.75 530.2,74.23 530.5,74.16 530.8,73.64 531.1,73.39 531.4,73.54 531.7,73.35 532,73.19 532.3,72.68 532.6,72.58 532.9,72.35 533.2,72.22 533.5,71.96 533.8,71.94 534.1,71.96 534.4,72.12 534.7,72.15 535,72.12 535.3,72.18 535.6,72.27 535.9,72.48 536.2,72.6 536.5,72.66 536.8,73.1 537.1,73.25 537.4,73.55 537.7,74.18 538,74.28 538.3,74.88 538.6,75.25 538.9,75.33 539.2,75.82 539.5,76.39 539.8,76.74 540.1,77.1 540.4,77.75 540.7,78.05 541,78.67 541.3,78.87 541.6,79.36" fill="none" stroke="#0000ff" stroke-width="1.7" stroke-linejoin="round" stroke-linecap="butt" clip-path="url(#clipb)"/>
<polyline points="62.3,313.4 62.6,313.4 62.9,313.4 63.2,313.4 63.5,313.4 63.8,313.4 64.1,313.4 64.4,313.4 64.7,313.4 65,313.4 65.3,313.4 65.6,313.4 65.9,313.4 66.2,313.4 66.5,313.4 66.8,313.4 67.1,313.4 67.4,313.4 67.7,313.4 68,313.4 68.3,313.4 68.6,313.4 68.9,313.4 69.2,313.4 69.5,313.4 69.8,313.4 70.1,313.4 70.4,313.4 70.7,313.4 71,313.4 71.3,313.4 71.6,313.4 71.9,313.4 72.2,313.4 72.5,313.4 72.8,313.4 73.1,313.4 73.4,313.4 73.7,313.4 74,313.4 74.3,313.4 74.6,313.4 74.9,313.4 75.2,313.4 75.5,313.4 75.8,313.4 76.1,313.4 76.4,313.4 76.7,313.4 77,313.4 77.3,313.4 77.6,313.4 77.9,313.4 78.2,313.4 78.5,313.4 78.8,313.4 79.1,313.4 79.4,313.4 79.7,313.4 80,313.4 80.3,313.4 80.6,313.4 80.9,313.4 81.2,313.4 81.5,313.4 81.8,313.4 82.1,313.4 82.4,313.4 82.7,313.4 83,313.4 83.3,313.4 83.6,313.4 83.9,313.4 84.2,313.4 84.5,313.4 84.8,313.4 85.1,313.4 85.4,313.4 85.7,313.4 86,313.4 86.3,313.4 86.6,313.4 86.9,313.4 87.2,313.4 87.5,313.4 87.8,313.4 88.1,313.4 88.4,313.4 88.7,313.4 89,313.4 89.3,313.4 89.6,313.4 89.9,313.4 90.2,313.4 90.5,313.4 90.8,313.4 91.1,313.4 91.4,313.4 91.7,310.42 92,305.96 92.3,301.42 92.6,297.48 92.9,294.22 93.2,290.95 93.5,284.34 93.8,275.85 94.1,263.98 94.4,251.55 94.7,251.12 95,251.4 95.3,250.97 95.6,250.96 95.9,250.89 96.2,250.86 96.5,250.88 96.8,251 97.1,250.64 97.4,250.44 97.7,250.1 98,249.42 98.3,249.18 98.6,248.19 98.9,247.87 99.2,247.76 99.5,247.21 99.8,247.21 100.1,246.7 100.4,246.39 100.7,246.1 101,245.79 101.3,245.32 101.6,244.88 101.9,244.87 102.2,244.29 102.5,244.15 102.8,244.07 103.1,243.68 103.4,243.63 103.7,243.41 104,243.15 104.3,242.81 104.6,242.39 104.9,242.61 105.2,242.9 105.5,243.17 105.8,243.28 106.1,243.31 106.4,243.49 106.7,243.22 107,243.93 107.3,244.74 107.6,245.09 107.9,245.57 108.2,246.16 108.5,246.32 108.8,246.63 109.1,247.5 109.4,247.84 109.7,248.31 110,248.71 110.3,249.55 110.6,250.64 110.9,251.52 111.2,251.74 111.5,252.83 111.8,253.41 112.1,254.38 112.4,254.9 112.7,256.09 113,256.52 113.3,257.47 113.6,258.12 113.9,259.07 114.2,259.85 114.5,260.41 114.8,261.02 115.1,261.79 115.4,262.74 115.7,263.72 116,264.07 116.3,264.51 116.6,264.74 116.9,265.39 117.2,266 117.5,266.59 117.8,267.1 118.1,267.36 118.4,267.82 118.7,267.55 119,267.94 119.3,268.21 119.6,268.46 119.9,268.67 120.2,268.67 120.5,268.8 120.8,268.78 121.1,268.94 121.4,268.99 121.7,269.26 122,268.82 122.3,268.66 122.6,268.9 122.9,268.62 123.2,268.48 123.5,268.67 123.8,268.07 124.1,267.99 124.4,268.16 124.7,267.68 125,267.96 125.3,267.79 125.6,267.16 125.9,267.29 126.2,266.82 126.5,266.65 126.8,266.36 127.1,266.42 127.4,265.85 127.7,265.99 128,265.42 128.3,265.15 128.6,265.37 128.9,264.6 129.2,264.4 129.5,264.45 129.8,264.43 130.1,264.15 130.4,263.83 130.7,263.19 131,262.99 131.3,263.2 131.6,262.97 131.9,262.85 132.2,262.25 132.5,262.14 132.8,261.74 133.1,261.36 133.4,261.42 133.7,261.12 134,260.44 134.3,260.44 134.6,260.31 134.9,259.96 135.2,259.38 135.5,258.91 135.8,258.74 136.1,258.44 136.4,258.45 136.7,258.38 137,258.24 137.3,257.92 137.6,257.9 137.9,257.7 138.2,257.94 138.5,257.78 138.8,257.88 139.1,257.58 139.4,257.84 139.7,257.5 140,257.61 140.3,257.83 140.6,257.98 140.9,258.12 141.2,258.75 141.5,258.67 141.8,259.03 142.1,258.93 142.4,259.42 142.7,259.62 143,260.23 143.3,260.35 143.6,261.25 143.9,261.68 144.2,261.76 144.5,262.4 144.8,262.88 145.1,263.74 145.4,264.04 145.7,264.15 146,264.76 146.3,265.32 146.6,265.3 146.9,266.11 147.2,266.47 147.5,266.92 147.8,266.96 148.1,267.84 148.4,267.82 148.7,268.26 149,268.29 149.3,268.44 149.6,268.73 149.9,269.32 150.2,269.79 150.5,269.94 150.8,269.84 151.1,269.96 151.4,270.6 151.7,270.33 152,270.67 152.3,270.66 152.6,270.71 152.9,270.84 153.2,270.63 153.5,270.65 153.8,270.57 154.1,271.19 154.4,270.64 154.7,271.09 155,270.6 155.3,270.91 155.6,271.05 155.9,270.85 156.2,270.85 156.5,270.8 156.8,270.52 157.1,271.03 157.4,270.85 157.7,270.99 158,270.92 158.3,270.48 158.6,270.63 158.9,270.32 159.2,269.94 159.5,269.99 159.8,270.05 160.1,269.31 160.4,269.52 160.7,269.19 161,269.06 161.3,269 161.6,268.54 161.9,268.24 162.2,268.05 162.5,267.95 162.8,267.85 163.1,267.5 163.4,267.44 163.7,266.87 164,266.53 164.3,266.56 164.6,266.38 164.9,265.99 165.2,265.48 165.5,265.47 165.8,265.38 166.1,264.95 166.4,265 166.7,264.41 167,264.44 167.3,264.04 167.6,263.63 167.9,263.49 168.2,263.18 168.5,263.2 168.8,263.14 169.1,262.85 169.4,262.67 169.7,262.21 170,262.44 170.3,262.43 170.6,262.05 170.9,262.03 171.2,261.91 171.5,261.83 171.8,261.48 172.1,261.63 172.4,261.37 172.7,261.43 173,261.22 173.3,261.43 173.6,261.38 173.9,261.85 174.2,262.03 174.5,261.97 174.8,261.85 175.1,261.94 175.4,262.12 175.7,261.96 176,261.92 176.3,262.49 176.6,262.49 176.9,262.93 177.2,263.07 177.5,263.26 177.8,263.42 178.1,264.06 178.4,264.32 178.7,264.31 179,264.68 179.3,265.46 179.6,265.63 179.9,265.63 180.2,266 180.5,266.44 180.8,266.81 181.1,266.65 181.4,267.24 181.7,267.45 182,267.8 182.3,267.7 182.6,268.14 182.9,268.57 183.2,268.61 183.5,269.04 183.8,269.14 184.1,269.34 184.4,269.65 184.7,269.73 185,269.47 185.3,269.93 185.6,269.69 185.9,269.99 186.2,270.36 186.5,270.52 186.8,270.78 187.1,270.48 187.4,270.73 187.7,270.85 188,270.98 188.3,271.07 188.6,270.78 188.9,270.73 189.2,270.83 189.5,271.18 189.8,270.81 190.1,270.95 190.4,271.3 190.7,271.37 191,271.07 191.3,271.26 191.6,271.03 191.9,270.96 192.2,271.14 192.5,270.87 192.8,271.08 193.1,271.2 193.4,271.21 193.7,270.93 194,270.28 194.3,270.17 194.6,269.71 194.9,269.46 195.2,269.78 195.5,269.05 195.8,268.92 196.1,268.9 196.4,268.35 196.7,268.23 197,267.82 197.3,268.01 197.6,267.52 197.9,267.2 198.2,267.06 198.5,267.01 198.8,266.7 199.1,266.4 199.4,266.18 199.7,265.99 200,265.85 200.3,265.56 200.6,265.53 200.9,265.1 201.2,264.71 201.5,264.46 201.8,264.41 202.1,264.54 202.4,263.98 202.7,263.72 203,263.28 203.3,263.32 203.6,262.8 203.9,262.69 204.2,262.48 204.5,262.46 204.8,262.24 205.1,262.15 205.4,261.93 205.7,262.11 206,261.87 206.3,262.11 206.6,261.96 206.9,261.66 207.2,261.82 207.5,261.37 207.8,261.15 208.1,261.67 208.4,261.77 208.7,261.27 209,261.52 209.3,261.34 209.6,261.76 209.9,261.91 210.2,261.51 210.5,261.94 210.8,262.09 211.1,262.13 211.4,262.45 211.7,262.69 212,262.96 212.3,263.42 212.6,263.4 212.9,264.18 213.2,264.12 213.5,264.41 213.8,264.88 214.1,264.74 214.4,265.09 214.7,265.64 215,265.9 215.3,266.05 215.6,266.47 215.9,266.68 216.2,266.99 216.5,267.34 216.8,267.53 217.1,267.88 217.4,267.89 217.7,268.39 218,268.49 218.3,268.2 218.6,268.65 218.9,269.03 219.2,268.9 219.5,269 219.8,269.14 220.1,269.56 220.4,269.42 220.7,269.48 221,269.92 221.3,270.24 221.6,270.13 221.9,269.87 222.2,270.01 222.5,270.22 222.8,270.56 223.1,270.76 223.4,270.77 223.7,270.47 224,270.9 224.3,271.05 224.6,270.95 224.9,270.9 225.2,271.08 225.5,270.99 225.8,270.89 226.1,270.65 226.4,270.75 226.7,271 227,270.69 227.3,270.85 227.6,270.67 227.9,270.42 228.2,270.56 228.5,270.5 228.8,270.2 229.1,270.05 229.4,269.67 229.7,269.78 230,269.67 230.3,269.27 230.6,269.14 230.9,268.46 231.2,268.14 231.5,268.2 231.8,267.71 232.1,267.37 232.4,267.26 232.7,266.62 233,266.64 233.3,266.42 233.6,266.14 233.9,265.41 234.2,265.14" fill="none" stroke="#ff0000" stroke-width="1.75" stroke-linejoin="round" stroke-linecap="butt" clip-path="url(#clipc)"/>
<polyline points="62.3,314.9 62.6,314.9 62.9,314.9 63.2,314.9 63.5,314.9 63.8,314.9 64.1,314.9 64.4,314.9 64.7,314.9 65,314.9 65.3,314.9 65.6,314.9 65.9,314.9 66.2,314.9 66.5,314.9 66.8,314.9 67.1,314.9 67.4,314.9 67.7,314.9 68,314.9 68.3,314.9 68.6,314.9 68.9,314.9 69.2,314.9 69.5,314.9 69.8,314.9 70.1,314.9 70.4,314.9 70.7,314.9 71,314.9 71.3,314.9 71.6,314.9 71.9,314.9 72.2,314.9 72.5,314.9 72.8,314.9 73.1,314.9 73.4,314.9 73.7,314.9 74,314.9 74.3,314.9 74.6,314.9 74.9,314.9 75.2,314.9 75.5,314.9 75.8,314.9 76.1,314.9 76.4,314.9 76.7,314.9 77,314.9 77.3,314.9 77.6,314.9 77.9,314.9 78.2,314.9 78.5,314.9 78.8,314.9 79.1,314.9 79.4,314.9 79.7,314.9 80,314.9 80.3,314.9 80.6,314.9 80.9,314.9 81.2,314.9 81.5,314.9 81.8,314.9 82.1,314.9 82.4,314.9 82.7,314.9 83,314.9 83.3,314.9 83.6,314.9 83.9,314.9 84.2,314.9 84.5,314.9 84.8,314.9 85.1,314.9 85.4,314.9 85.7,314.9 86,314.9 86.3,314.9 86.6,314.9 86.9,314.9 87.2,314.9 87.5,314.9 87.8,314.9 88.1,314.9 88.4,314.9 88.7,314.9 89,314.9 89.3,314.9 89.6,314.9 89.9,314.9 90.2,314.9 90.5,314.9 90.8,314.9 91.1,314.9 91.4,314.9 91.7,314.9 92,314.9 92.3,314.9 92.6,314.9 92.9,314.9 93.2,314.9 93.5,314.9 93.8,314.9 94.1,305.95 94.4,296 94.7,283.95 95,265.43 95.3,250.2 95.6,250.16 95.9,250.11 96.2,249.91 96.5,249.55 96.8,249.57 97.1,248.97 97.4,248.85 97.7,248.14 98,248.04 98.3,247.69 98.6,247.55 98.9,246.94 99.2,246.67 99.5,246.62 99.8,246.58 100.1,246.26 100.4,245.73 100.7,245.12 101,244.97 101.3,244.26 101.6,243.76 101.9,243.47 102.2,242.76 102.5,242.34 102.8,242.28 103.1,241.53 103.4,240.97 103.7,240.81 104,240.39 104.3,240.61 104.6,240.06 104.9,239.91 105.2,239.8 105.5,239.3 105.8,239.18 106.1,238.77 106.4,238.76 106.7,238.3 107,238.02 107.3,238.05 107.6,238.07 107.9,238.29 108.2,238.93 108.5,239.05 108.8,239.4 109.1,239.58 109.4,239.88 109.7,240.41 110,240.39 110.3,241.61 110.6,242.11 110.9,242.9 111.2,243.76 111.5,244.32 111.8,244.59 112.1,245.77 112.4,246.46 112.7,247.26 113,247.56 113.3,248.68 113.6,249.44 113.9,250.13 114.2,251.02 114.5,251.49 114.8,252.4 115.1,253.25 115.4,254.26 115.7,254.92 116,255.31 116.3,256.55 116.6,257.25 116.9,258.05 117.2,258.79 117.5,259.48 117.8,260.17 118.1,260.66 118.4,261.65 118.7,262.6 119,263.42 119.3,263.71 119.6,264.31 119.9,264.39 120.2,264.86 120.5,265 120.8,265.22 121.1,265.76 121.4,265.92 121.7,266.25 122,266.83 122.3,266.99 122.6,266.93 122.9,267.07 123.2,267.36 123.5,267.21 123.8,267.79 124.1,267.86 124.4,267.59 124.7,267.72 125,267.84 125.3,267.92 125.6,267.61 125.9,267.57 126.2,267.43 126.5,267.45 126.8,267.09 127.1,266.63 127.4,266.61 127.7,266.75 128,266.56 128.3,266.41 128.6,266.19 128.9,265.65 129.2,265.41 129.5,265.2 129.8,264.87 130.1,264.81 130.4,264.37 130.7,264.38 131,263.7 131.3,263.81 131.6,263.29 131.9,263.38 132.2,263.15 132.5,262.69 132.8,262.11 133.1,261.81 133.4,261.89 133.7,261.26 134,261.09 134.3,260.92 134.6,260.59 134.9,260.36 135.2,259.8 135.5,259.3 135.8,259.07 136.1,258.7 136.4,258.31 136.7,258.35 137,257.94 137.3,257.45 137.6,257.67 137.9,257.56 138.2,257.13 138.5,257.08 138.8,256.88 139.1,256.8 139.4,256.82 139.7,256.66 140,256.14 140.3,256.21 140.6,256.68 140.9,256.6 141.2,257 141.5,256.66 141.8,256.91 142.1,257.21 142.4,257.42 142.7,257.31 143,257.49 143.3,257.51 143.6,257.58 143.9,258.03 144.2,258.63 144.5,258.98 144.8,259.08 145.1,259.79 145.4,260.35 145.7,260.48 146,261.14 146.3,261.49 146.6,261.75 146.9,261.91 147.2,262.59 147.5,262.83 147.8,263.63 148.1,263.93 148.4,264.13 148.7,264.61 149,265.05 149.3,265.52 149.6,265.74 149.9,265.97 150.2,266.21 150.5,266.98 150.8,266.93 151.1,267.16 151.4,267.82 151.7,268 152,268 152.3,268.48 152.6,268.72 152.9,268.63 153.2,268.62 153.5,268.89 153.8,269.27 154.1,269.37 154.4,269.5 154.7,269.74 155,269.77 155.3,269.91 155.6,269.99 155.9,269.85 156.2,270.09 156.5,269.64 156.8,269.81 157.1,269.7 157.4,269.7 157.7,269.45 158,269.64 158.3,269.62 158.6,269.26 158.9,269.14 159.2,269.05 159.5,269.2 159.8,269.38 160.1,268.77 160.4,268.69 160.7,269.08 161,268.71 161.3,268.75 161.6,268.8 161.9,268.38 162.2,268.53 162.5,267.91 162.8,267.7 163.1,267.73 163.4,267.2 163.7,266.73 164,266.5 164.3,266.57 164.6,266.03 164.9,265.74 165.2,265.28 165.5,265.01 165.8,264.82 166.1,264.64 166.4,264.79 166.7,264.28 167,263.75 167.3,263.79 167.6,263.42 167.9,263.53 168.2,263.35 168.5,262.85 168.8,262.73 169.1,262.25 169.4,261.91 169.7,261.95 170,261.36 170.3,261.38 170.6,261.33 170.9,260.71 171.2,260.96 171.5,260.58 171.8,260.8 172.1,260.43 172.4,260.49 172.7,260.37 173,260.11 173.3,260.37 173.6,259.96 173.9,260.21 174.2,260.05 174.5,260.19 174.8,259.88 175.1,259.57 175.4,259.66 175.7,259.8 176,259.35 176.3,259.34 176.6,259.42 176.9,260.06 177.2,259.98 177.5,260.14 177.8,260.68 178.1,260.68 178.4,261.11 178.7,261.45 179,261.6 179.3,261.94 179.6,261.83 179.9,262.36 180.2,262.55 180.5,262.69 180.8,263.12 181.1,263.39 181.4,263.37 181.7,263.71 182,264.15 182.3,264.22 182.6,264.64 182.9,264.87 183.2,265.24 183.5,265.29 183.8,265.83 184.1,266.17 184.4,266.3 184.7,266.39 185,266.45 185.3,266.99 185.6,267.18 185.9,267.22 186.2,267.09 186.5,267.53 186.8,267.42 187.1,267.45 187.4,267.73 187.7,267.61 188,267.78 188.3,268.19 188.6,268.53 188.9,268.67 189.2,268.63 189.5,268.51 189.8,268.47 190.1,269.08 190.4,268.74 190.7,269.3 191,269.41 191.3,269.15 191.6,269.65 191.9,269.64 192.2,269.64 192.5,269.91 192.8,269.48 193.1,269.62 193.4,269.21 193.7,269.58 194,269.37 194.3,269.09 194.6,268.8 194.9,269.23 195.2,268.82 195.5,268.99 195.8,268.92 196.1,268.53 196.4,268.27 196.7,268 197,267.94 197.3,267.72 197.6,267.38 197.9,267.24 198.2,267.45 198.5,267.31 198.8,266.88 199.1,267.02 199.4,266.61 199.7,266.25 200,266.33 200.3,266.13 200.6,265.99 200.9,265.91 201.2,265.28 201.5,264.99 201.8,265.03 202.1,264.66 202.4,264.6 202.7,264.53 203,263.99 203.3,263.96 203.6,263.91 203.9,263.67 204.2,263.02 204.5,262.95 204.8,262.78 205.1,262.69 205.4,262.39 205.7,262.13 206,261.95 206.3,261.88 206.6,261.33 206.9,261.35 207.2,261.42 207.5,261.03 207.8,260.9 208.1,260.72 208.4,260.58 208.7,259.92 209,259.84 209.3,259.82 209.6,259.83 209.9,259.61 210.2,259.88 210.5,259.89 210.8,259.81 211.1,259.55 211.4,259.46 211.7,259.52 212,260.09 212.3,260.15 212.6,260.31 212.9,260.29 213.2,260.18 213.5,260.35 213.8,260.5 214.1,261.17 214.4,260.93 214.7,261.45 215,261.82 215.3,262.16 215.6,262.25 215.9,262.59 216.2,262.7 216.5,263.23 216.8,263.06 217.1,263.37 217.4,263.72 217.7,264.17 218,264.28 218.3,264.43 218.6,265.2 218.9,265.03 219.2,265.41 219.5,266.11 219.8,266.29 220.1,266.51 220.4,266.85 220.7,266.9 221,267.43 221.3,267.51 221.6,267.71 221.9,267.97 222.2,267.99 222.5,268.37 222.8,268.11 223.1,268.2 223.4,268.62 223.7,268.32 224,268.52 224.3,268.98 224.6,268.66 224.9,268.82 225.2,269.25 225.5,269.1 225.8,268.94 226.1,269.05 226.4,269.44 226.7,269.27 227,269.48 227.3,269.68 227.6,269.78 227.9,269.54 228.2,269.18 228.5,269.22 228.8,269.24 229.1,269.06 229.4,268.7 229.7,268.83 230,268.67 230.3,268.24 230.6,268.19 230.9,268.01 231.2,267.78 231.5,268.12 231.8,267.99 232.1,267.44 232.4,267.38 232.7,267.65 233,267.09 233.3,267.11 233.6,267.09 233.9,266.98 234.2,266.95" fill="none" stroke="#0000ff" stroke-width="1.75" stroke-linejoin="round" stroke-linecap="butt" clip-path="url(#clipc)"/>
<polyline points="369.7,266.89 370,266.9 370.3,266.82 370.6,266.89 370.9,267.1 371.2,266.94 371.5,267.05 371.8,268.48 372.1,267.05 372.4,266.96 372.7,267 373,267.18 373.3,266.93 373.6,266.85 373.9,266.86 374.2,266.89 374.5,266.83 374.8,267.24 375.1,266.82 375.4,267.14 375.7,267.04 376,267.25 376.3,266.88 376.6,267.19 376.9,266.81 377.2,266.88 377.5,266.98 377.8,267.18 378.1,267.06 378.4,267.14 378.7,267 379,266.78 379.3,266.81 379.6,266.9 379.9,266.82 380.2,268.63 380.5,267.02 380.8,267.18 381.1,267.24 381.4,267.22 381.7,266.8 382,266.77 382.3,268.5 382.6,268.32 382.9,266.99 383.2,267.19 383.5,267.07 383.8,267.15 384.1,267.12 384.4,266.98 384.7,266.92 385,267.08 385.3,267.21 385.6,267.18 385.9,267.17 386.2,266.88 386.5,266.85 386.8,267.1 387.1,267 387.4,267.24 387.7,266.84 388,267.24 388.3,268.62 388.6,266.76 388.9,266.84 389.2,267.13 389.5,267.03 389.8,266.84 390.1,267.17 390.4,267.14 390.7,267.01 391,266.95 391.3,267.2 391.6,266.91 391.9,267.07 392.2,267.05 392.5,266.83 392.8,267.11 393.1,266.9 393.4,266.95 393.7,266.88 394,266.85 394.3,267.11 394.6,266.79 394.9,267.04 395.2,267.08 395.5,267.13 395.8,268.29 396.1,266.78 396.4,267.05 396.7,266.77 397,268.61 397.3,266.75 397.6,267.16 397.9,266.99 398.2,266.96 398.5,266.93 398.8,266.76 399.1,267.06 399.4,267 399.7,267.02 400,268.39 400.3,267.18 400.6,266.95 400.9,267.19 401.2,266.76 401.5,266.93 401.8,267.03 402.1,266.75 402.4,267.02 402.7,266.82 403,267.24 403.3,267.15 403.6,267.05 403.9,267.09 404.2,267.16 404.5,267.07 404.8,267.23 405.1,266.78 405.4,267.04 405.7,266.77 406,266.94 406.3,267.06 406.6,267.08 406.9,266.78 407.2,267.07 407.5,267.06 407.8,266.75 408.1,266.81 408.4,266.99 408.7,267.17 409,268.33 409.3,267.11 409.6,266.8 409.9,267.18 410.2,267.1 410.5,266.85 410.8,266.8 411.1,267.06 411.4,267.17 411.7,267.03 412,266.76 412.3,266.89 412.6,266.98 412.9,266.75 413.2,266.76 413.5,266.96 413.8,266.82 414.1,267.15 414.4,266.95 414.7,267.18 415,266.95 415.3,266.92 415.6,267.11 415.9,267.06 416.2,267.01 416.5,266.83 416.8,268.22 417.1,267.21 417.4,266.95 417.7,267.22 418,266.84 418.3,267.07 418.6,267.1 418.9,267.16 419.2,266.86 419.5,267.12 419.8,266.79 420.1,267.23 420.4,268.22 420.7,267.01 421,267.23 421.3,266.94 421.6,267.03 421.9,267.01 422.2,267.08 422.5,267.08 422.8,266.91 423.1,268.16 423.4,267.05 423.7,267.19 424,267.09 424.3,267.24 424.6,266.81 424.9,266.87 425.2,267.18 425.5,266.75 425.8,266.89 426.1,266.76 426.4,266.87 426.7,267.14 427,266.88 427.3,266.8 427.6,266.91 427.9,267.11 428.2,267.09 428.5,267.07 428.8,267.2 429.1,266.97 429.4,268.43 429.7,267.12 430,266.78 430.3,267.06 430.6,267.2 430.9,266.98 431.2,267.16 431.5,267.19 431.8,267.19 432.1,267 432.4,266.79 432.7,267.1 433,266.77 433.3,267.06 433.6,267.05 433.9,267.24 434.2,267.09 434.5,266.86 434.8,266.78 435.1,267.18 435.4,266.98 435.7,267.23 436,267.18 436.3,266.98 436.6,267.2 436.9,266.84 437.2,267.15 437.5,267.23 437.8,266.76 438.1,267.01 438.4,267.17 438.7,267.04 439,267.16 439.3,266.91 439.6,267.06 439.9,266.83 440.2,267.22 440.5,267.1 440.8,267 441.1,267.11 441.4,267.22 441.7,266.83 442,268.34 442.3,267.07 442.6,266.97 442.9,267 443.2,267.16 443.5,266.79 443.8,266.87 444.1,266.81 444.4,266.84 444.7,267 445,267.11 445.3,266.91 445.6,266.97 445.9,268.37 446.2,267.11 446.5,266.75 446.8,267.06 447.1,267.22 447.4,267.1 447.7,267.11 448,267.05 448.3,266.84 448.6,267.2 448.9,266.81 449.2,267.15 449.5,266.9 449.8,267.13 450.1,266.85 450.4,267.21 450.7,267.12 451,266.78 451.3,268.26 451.6,266.85 451.9,266.81 452.2,266.94 452.5,266.82 452.8,267.19 453.1,266.85 453.4,267.02 453.7,266.86 454,267.05 454.3,267.06 454.6,266.76 454.9,266.78 455.2,268.64 455.5,267.12 455.8,267.21 456.1,267.06 456.4,267.15 456.7,266.78 457,266.92 457.3,267.03 457.6,267.03 457.9,266.93 458.2,266.77 458.5,267 458.8,267.22 459.1,267.1 459.4,267.14 459.7,267.25 460,267.23 460.3,267.15 460.6,267.21 460.9,268.27 461.2,267.21 461.5,266.98 461.8,266.79 462.1,266.87 462.4,267.18 462.7,267.2 463,267.19 463.3,267.19 463.6,267.24 463.9,266.98 464.2,266.77 464.5,266.77 464.8,267.1 465.1,266.96 465.4,266.84 465.7,266.86 466,266.87 466.3,266.95 466.6,267.23 466.9,267.11 467.2,266.83 467.5,266.94 467.8,267.08 468.1,267.17 468.4,266.88 468.7,267.11 469,267.02 469.3,267.23 469.6,268.22 469.9,267.03 470.2,268.45 470.5,267.17 470.8,267.1 471.1,267.22 471.4,268.46 471.7,266.88 472,267.08 472.3,266.9 472.6,267.24 472.9,266.87 473.2,266.85 473.5,267.02 473.8,266.9 474.1,266.89 474.4,266.87 474.7,266.79 475,267.16 475.3,267.03 475.6,267.14 475.9,267.11 476.2,267.18 476.5,266.77 476.8,267.21 477.1,266.87 477.4,266.95 477.7,267.16 478,267.1 478.3,267.1 478.6,267.17 478.9,267.09 479.2,267.24 479.5,267.2 479.8,267.18 480.1,267.2 480.4,267.2 480.7,267.2 481,267.15 481.3,267.06 481.6,266.83 481.9,267.14 482.2,266.89 482.5,267.04 482.8,266.87 483.1,266.91 483.4,266.93 483.7,267.09 484,267.15 484.3,267.02 484.6,266.78 484.9,267.11 485.2,267 485.5,273.67 485.8,283.29 486.1,293.18 486.4,302.36 486.7,311.89 487,317.35 487.3,319.53 487.6,318 487.9,316.69 488.2,315.56 488.5,316.37 488.8,317.16 489.1,317.04 489.4,316.31 489.7,315.86 490,314.62 490.3,313.98 490.6,313.36 490.9,312.58 491.2,312.94 491.5,312.69 491.8,313.06 492.1,313.12 492.4,312.71 492.7,312.69 493,313.02 493.3,312.73 493.6,312.82 493.9,312.77 494.2,312.86 494.5,313.17 494.8,312.08 495.1,311.78 495.4,311.84 495.7,312.16 496,312.07 496.3,312.04 496.6,312.12 496.9,312.14 497.2,312.77 497.5,312.95 497.8,312.82 498.1,313.18 498.4,313.08 498.7,313.05 499,313.17 499.3,313.1 499.6,312.95 499.9,311.78 500.2,312.01 500.5,312.19 500.8,311.76 501.1,312.22 501.4,312.01 501.7,311.96 502,312.05 502.3,312.25 502.6,313.17 502.9,313.21 503.2,313.14 503.5,312.76 503.8,313.24 504.1,313.09 504.4,312.88 504.7,312.8 505,312.07 505.3,311.91 505.6,312.15 505.9,312.21 506.2,312.06 506.5,312.22 506.8,311.77 507.1,311.98 507.4,311.86 507.7,312.83 508,313.24 508.3,312.79 508.6,313.05 508.9,313.18 509.2,312.99 509.5,312.87 509.8,313.14 510.1,313.08 510.4,312.04 510.7,311.89 511,312.21 511.3,312 511.6,312 511.9,312.22 512.2,311.99 512.5,311.9 512.8,313.2 513.1,313.04 513.4,313.18 513.7,313.02 514,313.14 514.3,313.07 514.6,312.87 514.9,312.77 515.2,312.86 515.5,312.06 515.8,311.95 516.1,312.06 516.4,312.06 516.7,312.24 517,311.98 517.3,312.06 517.6,311.89 517.9,312.08 518.2,312.79 518.5,312.91 518.8,312.93 519.1,313.19 519.4,312.75 519.7,312.84 520,312.89 520.3,312.8 520.6,311.91 520.9,312.14 521.2,311.97 521.5,312.18 521.8,311.9 522.1,311.75 522.4,312.1 522.7,311.81 523,312.14 523.3,313.01 523.6,312.9 523.9,313.05 524.2,313.08 524.5,313.19 524.8,312.98 525.1,313.02 525.4,312.92 525.7,312.84 526,313.24 526.3,312.9 526.6,312.94 526.9,313.94 527.2,315.14 527.5,316.33 527.8,316.43 528.1,316.29 528.4,316.12 528.7,315.83 529,315.84 529.3,315.29 529.6,315.41 529.9,315.19 530.2,315.02 530.5,314.72 530.8,315.04 531.1,314.87 531.4,314.92 531.7,314.71 532,315.28 532.3,315.27 532.6,315.29 532.9,315.74 533.2,315.74 533.5,316.23 533.8,316.38 534.1,315.87 534.4,315.56 534.7,315.34 535,314.94 535.3,314.48 535.6,313.78 535.9,313.75 536.2,313.67 536.5,313.13 536.8,312.83 537.1,312.95 537.4,312.59 537.7,312.13 538,311.98 538.3,311.76 538.6,311.94 538.9,311.93 539.2,311.99 539.5,311.63 539.8,311.8 540.1,311.85 540.4,311.91 540.7,311.99 541,311.72 541.3,311.56 541.6,311.79" fill="none" stroke="#ff0000" stroke-width="1.7" stroke-linejoin="round" stroke-linecap="butt" clip-path="url(#clipd)"/>
<polyline points="369.7,265.28 370,265.37 370.3,265.11 370.6,265.13 370.9,265.57 371.2,265.53 371.5,265.01 371.8,264.98 372.1,265.62 372.4,265.32 372.7,265.25 373,264.94 373.3,265.62 373.6,265.27 373.9,265.1 374.2,264.83 374.5,265.2 374.8,265.53 375.1,265.67 375.4,265.04 375.7,265.09 376,264.77 376.3,265.12 376.6,264.81 376.9,265.24 377.2,265.09 377.5,264.84 377.8,264.94 378.1,264.78 378.4,265.12 378.7,264.62 379,264.73 379.3,264.64 379.6,265.4 379.9,265.38 380.2,265.04 380.5,264.69 380.8,264.95 381.1,264.69 381.4,264.65 381.7,264.76 382,265.11 382.3,264.73 382.6,265.08 382.9,264.7 383.2,264.19 383.5,264.98 383.8,264.56 384.1,264.82 384.4,264.92 384.7,264.13 385,264.54 385.3,264.43 385.6,263.9 385.9,264.43 386.2,264.46 386.5,264.01 386.8,264.08 387.1,264.16 387.4,263.71 387.7,264.43 388,263.66 388.3,263.85 388.6,264.07 388.9,264.03 389.2,264.22 389.5,263.58 389.8,263.97 390.1,263.45 390.4,263.93 390.7,263.77 391,264.07 391.3,264.09 391.6,263.37 391.9,263.62 392.2,264 392.5,263.8 392.8,263.55 393.1,264.33 393.4,264.48 393.7,263.84 394,263.88 394.3,264.42 394.6,264.17 394.9,264.7 395.2,264.2 395.5,264.41 395.8,264.63 396.1,264.4 396.4,264.85 396.7,264.42 397,264.49 397.3,264.99 397.6,264.5 397.9,265.14 398.2,265.04 398.5,264.37 398.8,265.22 399.1,264.55 399.4,264.5 399.7,265.15 400,265.06 400.3,265.46 400.6,265.21 400.9,265.01 401.2,265.07 401.5,265.25 401.8,265.17 402.1,265.22 402.4,265.67 402.7,265.4 403,265.35 403.3,265.69 403.6,265.42 403.9,265.4 404.2,265.04 404.5,265.89 404.8,265.19 405.1,265.48 405.4,265.18 405.7,265.65 406,265.36 406.3,265.77 406.6,266.07 406.9,265.39 407.2,265.69 407.5,266.19 407.8,265.44 408.1,265.67 408.4,265.67 408.7,266.18 409,265.83 409.3,266.14 409.6,266.11 409.9,265.91 410.2,265.48 410.5,265.92 410.8,265.31 411.1,265.61 411.4,265.92 411.7,265.9 412,265.67 412.3,264.98 412.6,265.44 412.9,265.77 413.2,265.65 413.5,264.87 413.8,264.97 414.1,265.03 414.4,265.18 414.7,265.45 415,265.35 415.3,265.26 415.6,265.11 415.9,265.4 416.2,265.02 416.5,264.8 416.8,264.97 417.1,264.63 417.4,264.92 417.7,265.26 418,264.47 418.3,264.4 418.6,264.56 418.9,264.73 419.2,264.47 419.5,264.27 419.8,264.35 420.1,264.71 420.4,264.45 420.7,264.99 421,264.66 421.3,265.01 421.6,264.46 421.9,264.26 422.2,264.7 422.5,264.6 422.8,264.61 423.1,264.44 423.4,264.66 423.7,264.09 424,264.71 424.3,264.29 424.6,264.57 424.9,264.51 425.2,264.46 425.5,264.62 425.8,264.44 426.1,264.38 426.4,264.36 426.7,264.18 427,264.53 427.3,264.74 427.6,263.98 427.9,264.48 428.2,264.44 428.5,264.74 428.8,264.36 429.1,264.33 429.4,264.92 429.7,264.92 430,264.42 430.3,265.12 430.6,264.42 430.9,264.95 431.2,264.45 431.5,264.43 431.8,264.53 432.1,264.51 432.4,264.73 432.7,264.78 433,264.77 433.3,264.87 433.6,265.42 433.9,265.4 434.2,264.9 434.5,264.72 434.8,265.48 435.1,264.88 435.4,265.65 435.7,265.58 436,265.09 436.3,265.23 436.6,265.31 436.9,265.66 437.2,264.93 437.5,265.29 437.8,265.04 438.1,265.66 438.4,265.03 438.7,265.65 439,265.73 439.3,265.26 439.6,265.79 439.9,265.35 440.2,265.43 440.5,265.41 440.8,265.82 441.1,265.91 441.4,265.7 441.7,265.68 442,266.1 442.3,265.52 442.6,265.98 442.9,265.49 443.2,265.73 443.5,265.67 443.8,265.5 444.1,265.49 444.4,265.97 444.7,266.06 445,265.44 445.3,265.88 445.6,265.98 445.9,265.85 446.2,265.7 446.5,265.44 446.8,265.47 447.1,265.32 447.4,265.35 447.7,265.99 448,265.29 448.3,265.36 448.6,265.44 448.9,265.36 449.2,265.22 449.5,265.05 449.8,265.2 450.1,265.43 450.4,264.94 450.7,265.18 451,265.29 451.3,265.33 451.6,265.01 451.9,264.97 452.2,264.84 452.5,265.18 452.8,265.1 453.1,265.45 453.4,265.25 453.7,265.34 454,264.62 454.3,264.84 454.6,264.66 454.9,264.89 455.2,264.57 455.5,265.02 455.8,265.27 456.1,264.57 456.4,265.19 456.7,264.87 457,264.34 457.3,264.72 457.6,264.84 457.9,264.24 458.2,264.38 458.5,264.9 458.8,264.95 459.1,264.59 459.4,264.53 459.7,264.85 460,264.59 460.3,264.59 460.6,264.84 460.9,264.09 461.2,264.28 461.5,264.14 461.8,264.63 462.1,263.85 462.4,264.35 462.7,264.49 463,263.9 463.3,264.04 463.6,264.08 463.9,264.33 464.2,263.93 464.5,264.31 464.8,264.45 465.1,263.96 465.4,264.66 465.7,264.05 466,264.05 466.3,264.59 466.6,264.85 466.9,264.33 467.2,264.76 467.5,264.23 467.8,264.6 468.1,264.99 468.4,264.89 468.7,265.04 469,264.72 469.3,265.19 469.6,265.1 469.9,264.62 470.2,265.14 470.5,265 470.8,265.31 471.1,265.04 471.4,264.78 471.7,265.05 472,265.23 472.3,265.26 472.6,265.11 472.9,264.92 473.2,265.08 473.5,264.73 473.8,265.43 474.1,264.99 474.4,264.87 474.7,265.37 475,265.27 475.3,264.8 475.6,265.15 475.9,265.07 476.2,265.14 476.5,264.71 476.8,265.12 477.1,265.12 477.4,264.8 477.7,265.4 478,265.42 478.3,265.36 478.6,265.35 478.9,265.16 479.2,265.33 479.5,264.84 479.8,264.93 480.1,265.27 480.4,265.17 480.7,264.99 481,264.58 481.3,264.98 481.6,264.76 481.9,265.19 482.2,265.2 482.5,265.07 482.8,265.32 483.1,265.13 483.4,265.02 483.7,264.75 484,264.8 484.3,264.78 484.6,265.03 484.9,265.37 485.2,265.05 485.5,265.5 485.8,265.22 486.1,265.54 486.4,265.58 486.7,265.01 487,265.42 487.3,267.95 487.6,275.17 487.9,282.99 488.2,292.65 488.5,301.89 488.8,309.19 489.1,315.7 489.4,321.91 489.7,319.99 490,317.93 490.3,313.2 490.6,309.94 490.9,309.18 491.2,308.43 491.5,308.1 491.8,307.25 492.1,307.45 492.4,307.69 492.7,307.61 493,307.61 493.3,307.87 493.6,308.08 493.9,308.07 494.2,308.28 494.5,308.18 494.8,308.31 495.1,308.58 495.4,308.95 495.7,309.44 496,309.45 496.3,309.79 496.6,310.22 496.9,310.45 497.2,310.91 497.5,310.98 497.8,311.03 498.1,311.51 498.4,311.38 498.7,311.81 499,311.88 499.3,312.12 499.6,312.31 499.9,312.41 500.2,312.51 500.5,312.43 500.8,312.55 501.1,312.69 501.4,312.64 501.7,312.44 502,312.08 502.3,311.74 502.6,311.74 502.9,311.62 503.2,311.43 503.5,310.84 503.8,310.63 504.1,310.17 504.4,309.65 504.7,309.07 505,308.73 505.3,308.2 505.6,307.75 505.9,307.07 506.2,306.52 506.5,306.41 506.8,306.18 507.1,306.11 507.4,306.28 507.7,306.04 508,306.02 508.3,306.08 508.6,305.91 508.9,305.95 509.2,306.17 509.5,305.94 509.8,305.82 510.1,306.12 510.4,305.96 510.7,306.19 511,306.08 511.3,305.93 511.6,305.16 511.9,304.84 512.2,305.14 512.5,304.98 512.8,305.03 513.1,305.17 513.4,305.17 513.7,304.81 514,304.98 514.3,306.17 514.6,305.97 514.9,305.84 515.2,306.16 515.5,305.9 515.8,306.08 516.1,306.04 516.4,306.05 516.7,306.19 517,305.05 517.3,305.01 517.6,304.81 517.9,304.95 518.2,305.09 518.5,305.07 518.8,304.98 519.1,304.9 519.4,305.92 519.7,305.83 520,305.83 520.3,306.1 520.6,306.07 520.9,306.14 521.2,306.13 521.5,306.18 521.8,306.06 522.1,304.96 522.4,304.96 522.7,305.02 523,305.22 523.3,305.25 523.6,305.07 523.9,305.17 524.2,305 524.5,305.35 524.8,305.97 525.1,306.24 525.4,306.21 525.7,306.12 526,306.97 526.3,307.27 526.6,308.11 526.9,308.8 527.2,309.46 527.5,310.04 527.8,310.67 528.1,311.3 528.4,311.8 528.7,312.36 529,312.8 529.3,313.49 529.6,314.25 529.9,314.7 530.2,315.27 530.5,315.7 530.8,316.16 531.1,316.65 531.4,317.08 531.7,317.32 532,317.95 532.3,318.05 532.6,318.58 532.9,318.9 533.2,319.33 533.5,319.37 533.8,319.6 534.1,319.71 534.4,319.79 534.7,319.83 535,320.03 535.3,319.87 535.6,320.07 535.9,319.86 536.2,319.96 536.5,319.52 536.8,319.53 537.1,319.34 537.4,319.06 537.7,318.87 538,318.81 538.3,318.43 538.6,318.09 538.9,317.8 539.2,317.49 539.5,317.06 539.8,316.39 540.1,316.22 540.4,315.66 540.7,315.38 541,315.18 541.3,314.76 541.6,314.16" fill="none" stroke="#0000ff" stroke-width="1.65" stroke-linejoin="round" stroke-linecap="butt" clip-path="url(#clipd)"/>
<rect x="128.5" y="36.5" width="99.2" height="37.2" rx="1.2" fill="#ffffff" fill-opacity="0.97" stroke="#c4c4c4" stroke-width="1.3"/>
<line x1="132.70" y1="45.60" x2="158.10" y2="45.60" stroke="#ff0000" stroke-width="1.5"/>
<line x1="132.70" y1="62.60" x2="158.10" y2="62.60" stroke="#0000ff" stroke-width="1.5"/>
<text x="167.40" y="49.60" font-size="11.8" textLength="48.4" lengthAdjust="spacingAndGlyphs">ATPDraw</text>
<text x="167.00" y="66.70" font-size="11.8" textLength="42" lengthAdjust="spacingAndGlyphs">Simulink</text>
<rect x="375.3" y="36.5" width="99.2" height="37.2" rx="1.2" fill="#ffffff" fill-opacity="0.97" stroke="#c4c4c4" stroke-width="1.3"/>
<line x1="379.50" y1="45.60" x2="404.90" y2="45.60" stroke="#ff0000" stroke-width="1.5"/>
<line x1="379.50" y1="62.60" x2="404.90" y2="62.60" stroke="#0000ff" stroke-width="1.5"/>
<text x="414.20" y="49.60" font-size="11.8" textLength="48.4" lengthAdjust="spacingAndGlyphs">ATPDraw</text>
<text x="413.80" y="66.70" font-size="11.8" textLength="42" lengthAdjust="spacingAndGlyphs">Simulink</text>
<rect x="128.7" y="288.1" width="99.2" height="37.2" rx="1.2" fill="#ffffff" fill-opacity="0.97" stroke="#c4c4c4" stroke-width="1.3"/>
<line x1="132.90" y1="297.20" x2="158.30" y2="297.20" stroke="#ff0000" stroke-width="1.5"/>
<line x1="132.90" y1="314.20" x2="158.30" y2="314.20" stroke="#0000ff" stroke-width="1.5"/>
<text x="167.60" y="301.20" font-size="11.8" textLength="48.4" lengthAdjust="spacingAndGlyphs">ATPDraw</text>
<text x="167.20" y="318.30" font-size="11.8" textLength="42" lengthAdjust="spacingAndGlyphs">Simulink</text>
<rect x="375.5" y="288.1" width="99.2" height="37.2" rx="1.2" fill="#ffffff" fill-opacity="0.97" stroke="#c4c4c4" stroke-width="1.3"/>
<line x1="379.70" y1="297.20" x2="405.10" y2="297.20" stroke="#ff0000" stroke-width="1.5"/>
<line x1="379.70" y1="314.20" x2="405.10" y2="314.20" stroke="#0000ff" stroke-width="1.5"/>
<text x="414.40" y="301.20" font-size="11.8" textLength="48.4" lengthAdjust="spacingAndGlyphs">ATPDraw</text>
<text x="414.00" y="318.30" font-size="11.8" textLength="42" lengthAdjust="spacingAndGlyphs">Simulink</text>
<rect x="62.3" y="30.6" width="172.10" height="109.20" fill="none" stroke="#000" stroke-width="1.15"/>
<line x1="90.98" y1="139.8" x2="90.98" y2="144.70" stroke="#000" stroke-width="1.1"/>
<text x="89.58" y="160.80" font-size="14.5" text-anchor="middle">0.100</text>
<line x1="138.79" y1="139.8" x2="138.79" y2="144.70" stroke="#000" stroke-width="1.1"/>
<text x="137.39" y="160.80" font-size="14.5" text-anchor="middle">0.125</text>
<line x1="186.59" y1="139.8" x2="186.59" y2="144.70" stroke="#000" stroke-width="1.1"/>
<text x="185.19" y="160.80" font-size="14.5" text-anchor="middle">0.150</text>
<line x1="234.40" y1="139.8" x2="234.40" y2="144.70" stroke="#000" stroke-width="1.1"/>
<text x="233.00" y="160.80" font-size="14.5" text-anchor="middle">0.175</text>
<line x1="57.40" y1="139.80" x2="62.3" y2="139.80" stroke="#000" stroke-width="1.1"/>
<text x="50.60" y="145.10" font-size="14.5" text-anchor="end">650</text>
<line x1="57.40" y1="113.80" x2="62.3" y2="113.80" stroke="#000" stroke-width="1.1"/>
<text x="50.60" y="119.10" font-size="14.5" text-anchor="end">700</text>
<line x1="57.40" y1="87.80" x2="62.3" y2="87.80" stroke="#000" stroke-width="1.1"/>
<text x="50.60" y="93.10" font-size="14.5" text-anchor="end">750</text>
<line x1="57.40" y1="61.80" x2="62.3" y2="61.80" stroke="#000" stroke-width="1.1"/>
<text x="50.60" y="67.10" font-size="14.5" text-anchor="end">800</text>
<line x1="57.40" y1="35.80" x2="62.3" y2="35.80" stroke="#000" stroke-width="1.1"/>
<text x="50.60" y="41.10" font-size="14.5" text-anchor="end">850</text>
<text y="180.70"><tspan x="135.45" font-style="italic" font-size="16">t</tspan><tspan x="146.45" y="181.60" font-size="16.5">[</tspan><tspan x="149.25" y="180.70" font-size="15">s</tspan><tspan x="154.05" y="181.60" font-size="16.5">]</tspan></text>
<text transform="translate(147.45,21.90) scale(0.95,1.1)" font-size="22" text-anchor="middle">(<tspan font-size="19.5" textLength="10.6" lengthAdjust="spacingAndGlyphs">a</tspan>)</text>
<text transform="translate(15.00,110.30) rotate(-90)"><tspan x="0" y="0" font-style="italic" font-size="15.5">V</tspan><tspan x="10.2" y="2.6" font-style="italic" font-size="11.5" textLength="13.4" lengthAdjust="spacingAndGlyphs">out</tspan><tspan x="28.2" y="0.7" font-size="16" textLength="15.6" lengthAdjust="spacingAndGlyphs">[V]</tspan></text>
<rect x="369.7" y="30.6" width="172.10" height="109.20" fill="none" stroke="#000" stroke-width="1.15"/>
<line x1="388.82" y1="139.8" x2="388.82" y2="144.70" stroke="#000" stroke-width="1.1"/>
<text x="387.42" y="160.80" font-size="14.5" text-anchor="middle">0.450</text>
<line x1="436.63" y1="139.8" x2="436.63" y2="144.70" stroke="#000" stroke-width="1.1"/>
<text x="435.23" y="160.80" font-size="14.5" text-anchor="middle">0.475</text>
<line x1="484.43" y1="139.8" x2="484.43" y2="144.70" stroke="#000" stroke-width="1.1"/>
<text x="483.03" y="160.80" font-size="14.5" text-anchor="middle">0.500</text>
<line x1="532.24" y1="139.8" x2="532.24" y2="144.70" stroke="#000" stroke-width="1.1"/>
<text x="530.84" y="160.80" font-size="14.5" text-anchor="middle">0.525</text>
<line x1="364.80" y1="139.80" x2="369.7" y2="139.80" stroke="#000" stroke-width="1.1"/>
<text x="358.00" y="145.10" font-size="14.5" text-anchor="end">650</text>
<line x1="364.80" y1="113.80" x2="369.7" y2="113.80" stroke="#000" stroke-width="1.1"/>
<text x="358.00" y="119.10" font-size="14.5" text-anchor="end">700</text>
<line x1="364.80" y1="87.80" x2="369.7" y2="87.80" stroke="#000" stroke-width="1.1"/>
<text x="358.00" y="93.10" font-size="14.5" text-anchor="end">750</text>
<line x1="364.80" y1="61.80" x2="369.7" y2="61.80" stroke="#000" stroke-width="1.1"/>
<text x="358.00" y="67.10" font-size="14.5" text-anchor="end">800</text>
<line x1="364.80" y1="35.80" x2="369.7" y2="35.80" stroke="#000" stroke-width="1.1"/>
<text x="358.00" y="41.10" font-size="14.5" text-anchor="end">850</text>
<text y="180.70"><tspan x="442.85" font-style="italic" font-size="16">t</tspan><tspan x="453.85" y="181.60" font-size="16.5">[</tspan><tspan x="456.65" y="180.70" font-size="15">s</tspan><tspan x="461.45" y="181.60" font-size="16.5">]</tspan></text>
<text transform="translate(454.85,21.90) scale(0.95,1.1)" font-size="22" text-anchor="middle">(<tspan font-size="19.5" textLength="11.6" lengthAdjust="spacingAndGlyphs">b</tspan>)</text>
<text transform="translate(322.40,110.30) rotate(-90)"><tspan x="0" y="0" font-style="italic" font-size="15.5">V</tspan><tspan x="10.2" y="2.6" font-style="italic" font-size="11.5" textLength="13.4" lengthAdjust="spacingAndGlyphs">out</tspan><tspan x="28.2" y="0.7" font-size="16" textLength="15.6" lengthAdjust="spacingAndGlyphs">[V]</tspan></text>
<rect x="62.3" y="222.4" width="172.10" height="109.10" fill="none" stroke="#000" stroke-width="1.15"/>
<line x1="90.98" y1="331.5" x2="90.98" y2="336.40" stroke="#000" stroke-width="1.1"/>
<text x="89.58" y="352.50" font-size="14.5" text-anchor="middle">0.100</text>
<line x1="138.79" y1="331.5" x2="138.79" y2="336.40" stroke="#000" stroke-width="1.1"/>
<text x="137.39" y="352.50" font-size="14.5" text-anchor="middle">0.125</text>
<line x1="186.59" y1="331.5" x2="186.59" y2="336.40" stroke="#000" stroke-width="1.1"/>
<text x="185.19" y="352.50" font-size="14.5" text-anchor="middle">0.150</text>
<line x1="234.40" y1="331.5" x2="234.40" y2="336.40" stroke="#000" stroke-width="1.1"/>
<text x="233.00" y="352.50" font-size="14.5" text-anchor="middle">0.175</text>
<line x1="57.40" y1="331.50" x2="62.3" y2="331.50" stroke="#000" stroke-width="1.1"/>
<text y="336.80" font-size="14.5"><tspan x="25.10" textLength="10.2" lengthAdjust="spacingAndGlyphs">−</tspan><tspan x="36.30">10</tspan></text>
<line x1="57.40" y1="313.32" x2="62.3" y2="313.32" stroke="#000" stroke-width="1.1"/>
<text x="50.60" y="318.62" font-size="14.5" text-anchor="end">0</text>
<line x1="57.40" y1="295.13" x2="62.3" y2="295.13" stroke="#000" stroke-width="1.1"/>
<text x="50.60" y="300.43" font-size="14.5" text-anchor="end">10</text>
<line x1="57.40" y1="276.95" x2="62.3" y2="276.95" stroke="#000" stroke-width="1.1"/>
<text x="50.60" y="282.25" font-size="14.5" text-anchor="end">20</text>
<line x1="57.40" y1="258.77" x2="62.3" y2="258.77" stroke="#000" stroke-width="1.1"/>
<text x="50.60" y="264.07" font-size="14.5" text-anchor="end">30</text>
<line x1="57.40" y1="240.58" x2="62.3" y2="240.58" stroke="#000" stroke-width="1.1"/>
<text x="50.60" y="245.88" font-size="14.5" text-anchor="end">40</text>
<line x1="57.40" y1="222.40" x2="62.3" y2="222.40" stroke="#000" stroke-width="1.1"/>
<text x="50.60" y="227.70" font-size="14.5" text-anchor="end">50</text>
<text y="372.40"><tspan x="135.45" font-style="italic" font-size="16">t</tspan><tspan x="146.45" y="373.30" font-size="16.5">[</tspan><tspan x="149.25" y="372.40" font-size="15">s</tspan><tspan x="154.05" y="373.30" font-size="16.5">]</tspan></text>
<text transform="translate(147.45,213.70) scale(0.95,1.1)" font-size="22" text-anchor="middle">(<tspan font-size="19.5" textLength="9.4" lengthAdjust="spacingAndGlyphs">c</tspan>)</text>
<text transform="translate(15.50,300.80) rotate(-90)"><tspan x="0" y="0" font-style="italic" font-size="16.5">T</tspan><tspan x="10.0" y="2.8" font-style="italic" font-size="11">φ</tspan><tspan x="21.6" y="0" font-size="16" textLength="4.6" lengthAdjust="spacingAndGlyphs">[</tspan><tspan x="26.4" y="0" font-style="italic" font-size="15">μs</tspan><tspan x="38.6" y="0" font-size="16" textLength="4.6" lengthAdjust="spacingAndGlyphs">]</tspan></text>
<rect x="369.7" y="222.4" width="172.10" height="109.10" fill="none" stroke="#000" stroke-width="1.15"/>
<line x1="388.82" y1="331.5" x2="388.82" y2="336.40" stroke="#000" stroke-width="1.1"/>
<text x="387.42" y="352.50" font-size="14.5" text-anchor="middle">0.450</text>
<line x1="436.63" y1="331.5" x2="436.63" y2="336.40" stroke="#000" stroke-width="1.1"/>
<text x="435.23" y="352.50" font-size="14.5" text-anchor="middle">0.475</text>
<line x1="484.43" y1="331.5" x2="484.43" y2="336.40" stroke="#000" stroke-width="1.1"/>
<text x="483.03" y="352.50" font-size="14.5" text-anchor="middle">0.500</text>
<line x1="532.24" y1="331.5" x2="532.24" y2="336.40" stroke="#000" stroke-width="1.1"/>
<text x="530.84" y="352.50" font-size="14.5" text-anchor="middle">0.525</text>
<line x1="364.80" y1="331.50" x2="369.7" y2="331.50" stroke="#000" stroke-width="1.1"/>
<text y="336.80" font-size="14.5"><tspan x="332.50" textLength="10.2" lengthAdjust="spacingAndGlyphs">−</tspan><tspan x="343.70">10</tspan></text>
<line x1="364.80" y1="313.32" x2="369.7" y2="313.32" stroke="#000" stroke-width="1.1"/>
<text x="358.00" y="318.62" font-size="14.5" text-anchor="end">0</text>
<line x1="364.80" y1="295.13" x2="369.7" y2="295.13" stroke="#000" stroke-width="1.1"/>
<text x="358.00" y="300.43" font-size="14.5" text-anchor="end">10</text>
<line x1="364.80" y1="276.95" x2="369.7" y2="276.95" stroke="#000" stroke-width="1.1"/>
<text x="358.00" y="282.25" font-size="14.5" text-anchor="end">20</text>
<line x1="364.80" y1="258.77" x2="369.7" y2="258.77" stroke="#000" stroke-width="1.1"/>
<text x="358.00" y="264.07" font-size="14.5" text-anchor="end">30</text>
<line x1="364.80" y1="240.58" x2="369.7" y2="240.58" stroke="#000" stroke-width="1.1"/>
<text x="358.00" y="245.88" font-size="14.5" text-anchor="end">40</text>
<line x1="364.80" y1="222.40" x2="369.7" y2="222.40" stroke="#000" stroke-width="1.1"/>
<text x="358.00" y="227.70" font-size="14.5" text-anchor="end">50</text>
<text y="372.40"><tspan x="442.85" font-style="italic" font-size="16">t</tspan><tspan x="453.85" y="373.30" font-size="16.5">[</tspan><tspan x="456.65" y="372.40" font-size="15">s</tspan><tspan x="461.45" y="373.30" font-size="16.5">]</tspan></text>
<text transform="translate(454.85,213.70) scale(0.95,1.1)" font-size="22" text-anchor="middle">(<tspan font-size="19.5" textLength="11.6" lengthAdjust="spacingAndGlyphs">d</tspan>)</text>
<text transform="translate(322.90,300.80) rotate(-90)"><tspan x="0" y="0" font-style="italic" font-size="16.5">T</tspan><tspan x="10.0" y="2.8" font-style="italic" font-size="11">φ</tspan><tspan x="21.6" y="0" font-size="16" textLength="4.6" lengthAdjust="spacingAndGlyphs">[</tspan><tspan x="26.4" y="0" font-style="italic" font-size="15">μs</tspan><tspan x="38.6" y="0" font-size="16" textLength="4.6" lengthAdjust="spacingAndGlyphs">]</tspan></text>
</svg>
</body></html>
